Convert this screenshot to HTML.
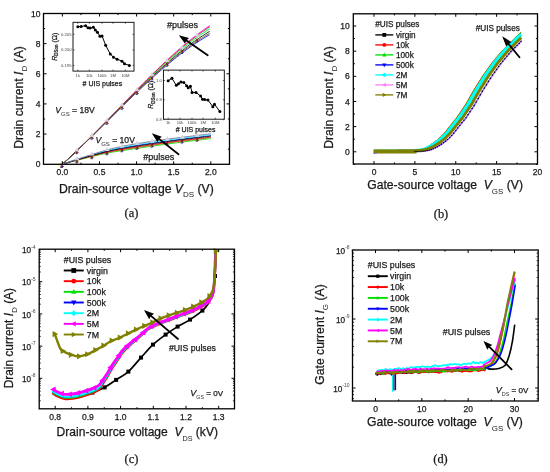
<!DOCTYPE html>
<html><head><meta charset="utf-8"><title>UIS degradation figure</title>
<style>
html,body{margin:0;padding:0;background:#fff;}
svg{display:block;}
text{font-family:"Liberation Sans",sans-serif;fill:#1a1a1a;stroke:#1a1a1a;stroke-width:0.25px;}
</style></head>
<body>
<svg width="550" height="472" viewBox="0 0 550 472">
<defs><filter id="soft" x="0" y="0" width="1" height="1"><feGaussianBlur stdDeviation="0.3"/></filter></defs>
<rect width="550" height="472" fill="#fff"/>
<g filter="url(#soft)">
<rect x="73" y="22.3" width="61" height="48.8" fill="#fff" stroke="#000" stroke-width="0.9"/>
<text x="71.5" y="35.7" font-size="4.2" text-anchor="end" style="fill:#444;stroke:none">0.205</text>
<text x="71.5" y="51.3" font-size="4.2" text-anchor="end" style="fill:#444;stroke:none">0.200</text>
<text x="71.5" y="66.8" font-size="4.2" text-anchor="end" style="fill:#444;stroke:none">0.195</text>
<text x="77.8" y="76.9" font-size="4.2" text-anchor="middle" style="fill:#444;stroke:none">1k</text>
<text x="89.3" y="76.9" font-size="4.2" text-anchor="middle" style="fill:#444;stroke:none">10k</text>
<text x="102" y="76.9" font-size="4.2" text-anchor="middle" style="fill:#444;stroke:none">100k</text>
<text x="113" y="76.9" font-size="4.2" text-anchor="middle" style="fill:#444;stroke:none">1M</text>
<text x="125.3" y="76.9" font-size="4.2" text-anchor="middle" style="fill:#444;stroke:none">10M</text>
<path d="M73,34.3h1.5M134,34.3h-1.5M73,49.9h1.5M134,49.9h-1.5M73,65.4h1.5M134,65.4h-1.5M77.8,71.1v-1.5M77.8,22.3v1.5M89.3,71.1v-1.5M89.3,22.3v1.5M102,71.1v-1.5M102,22.3v1.5M113,71.1v-1.5M113,22.3v1.5M125.3,71.1v-1.5M125.3,22.3v1.5" stroke="#000" stroke-width="0.6"/>
<path d="M77.82,26.78 L81.1,26.46 L85.68,25.64 L87.97,27.77 L90.1,28.09 L93.37,27.27 L95.34,30.06 L97.46,32.18 L99.92,36.28 L102.05,35.95 L105.65,45.28 L110.23,53.95 L113.5,57.23 L117.1,59.19 L122.01,61.15 L124.47,63.77 L129.38,65.41" stroke="#000" stroke-width="1.0" fill="none"/>
<circle cx="77.82" cy="26.78" r="1.5" fill="#000"/><circle cx="81.1" cy="26.46" r="1.5" fill="#000"/><circle cx="85.68" cy="25.64" r="1.5" fill="#000"/><circle cx="87.97" cy="27.77" r="1.5" fill="#000"/><circle cx="90.1" cy="28.09" r="1.5" fill="#000"/><circle cx="93.37" cy="27.27" r="1.5" fill="#000"/><circle cx="95.34" cy="30.06" r="1.5" fill="#000"/><circle cx="97.46" cy="32.18" r="1.5" fill="#000"/><circle cx="99.92" cy="36.28" r="1.5" fill="#000"/><circle cx="102.05" cy="35.95" r="1.5" fill="#000"/><circle cx="105.65" cy="45.28" r="1.5" fill="#000"/><circle cx="110.23" cy="53.95" r="1.5" fill="#000"/><circle cx="113.5" cy="57.23" r="1.5" fill="#000"/><circle cx="117.1" cy="59.19" r="1.5" fill="#000"/><circle cx="122.01" cy="61.15" r="1.5" fill="#000"/><circle cx="124.47" cy="63.77" r="1.5" fill="#000"/><circle cx="129.38" cy="65.41" r="1.5" fill="#000"/>
<text x="102.4" y="86" font-size="7" text-anchor="middle" ># UIS pulses</text>
<text transform="translate(56.5,46.7) rotate(-90)" font-size="7" text-anchor="middle"><tspan font-style="italic">R</tspan><tspan font-size="4.5" dy="1.8">DSon</tspan><tspan dy="-1.8"> (Ω)</tspan></text>
<rect x="163.4" y="70.1" width="60.9" height="49.1" fill="#fff" stroke="#000" stroke-width="0.9"/>
<text x="161.9" y="81.9" font-size="4.2" text-anchor="end" style="fill:#444;stroke:none">1.0</text>
<text x="161.9" y="101.2" font-size="4.2" text-anchor="end" style="fill:#444;stroke:none">0.9</text>
<text x="161.9" y="121.1" font-size="4.2" text-anchor="end" style="fill:#444;stroke:none">0.8</text>
<text x="168.2" y="123.9" font-size="4.2" text-anchor="middle" style="fill:#444;stroke:none">1k</text>
<text x="180.1" y="123.9" font-size="4.2" text-anchor="middle" style="fill:#444;stroke:none">10k</text>
<text x="192" y="123.9" font-size="4.2" text-anchor="middle" style="fill:#444;stroke:none">100k</text>
<text x="203" y="123.9" font-size="4.2" text-anchor="middle" style="fill:#444;stroke:none">1M</text>
<text x="215.3" y="123.9" font-size="4.2" text-anchor="middle" style="fill:#444;stroke:none">10M</text>
<path d="M163.4,80.5h1.5M224.3,80.5h-1.5M163.4,99.8h1.5M224.3,99.8h-1.5M163.4,119.7h1.5M224.3,119.7h-1.5M168.2,119.2v-1.5M168.2,70.1v1.5M180.1,119.2v-1.5M180.1,70.1v1.5M192,119.2v-1.5M192,70.1v1.5M203,119.2v-1.5M203,70.1v1.5M215.3,119.2v-1.5M215.3,70.1v1.5" stroke="#000" stroke-width="0.6"/>
<path d="M168.15,80.79 L171.91,78.33 L176.33,85.37 L178.46,83.73 L180.92,82.09 L183.86,82.59 L186.64,85.86 L188.28,87.82 L190.41,86.19 L192.05,92.41 L195.97,92.41 L200.56,96.01 L202.52,99.28 L204.65,99.61 L207.92,100.1 L212.83,106.64 L214.47,104.19 L219.87,111.55" stroke="#000" stroke-width="1.0" fill="none"/>
<circle cx="168.15" cy="80.79" r="1.5" fill="#000"/><circle cx="171.91" cy="78.33" r="1.5" fill="#000"/><circle cx="176.33" cy="85.37" r="1.5" fill="#000"/><circle cx="178.46" cy="83.73" r="1.5" fill="#000"/><circle cx="180.92" cy="82.09" r="1.5" fill="#000"/><circle cx="183.86" cy="82.59" r="1.5" fill="#000"/><circle cx="186.64" cy="85.86" r="1.5" fill="#000"/><circle cx="188.28" cy="87.82" r="1.5" fill="#000"/><circle cx="190.41" cy="86.19" r="1.5" fill="#000"/><circle cx="192.05" cy="92.41" r="1.5" fill="#000"/><circle cx="195.97" cy="92.41" r="1.5" fill="#000"/><circle cx="200.56" cy="96.01" r="1.5" fill="#000"/><circle cx="202.52" cy="99.28" r="1.5" fill="#000"/><circle cx="204.65" cy="99.61" r="1.5" fill="#000"/><circle cx="207.92" cy="100.1" r="1.5" fill="#000"/><circle cx="212.83" cy="106.64" r="1.5" fill="#000"/><circle cx="214.47" cy="104.19" r="1.5" fill="#000"/><circle cx="219.87" cy="111.55" r="1.5" fill="#000"/>
<text x="195.6" y="131.9" font-size="7" text-anchor="middle" ># UIS pulses</text>
<text transform="translate(153,94.65) rotate(-90)" font-size="7" text-anchor="middle"><tspan font-style="italic">R</tspan><tspan font-size="4.5" dy="1.8">DSon</tspan><tspan dy="-1.8"> (Ω)</tspan></text>
<path d="M62.4,164.2 C63.01,163.64 64.85,161.98 66.08,160.86 C67.31,159.73 68.54,158.59 69.76,157.45 C70.99,156.31 72.22,155.15 73.45,153.99 C74.67,152.82 75.9,151.65 77.13,150.47 C78.36,149.29 79.58,148.11 80.81,146.91 C82.04,145.72 83.27,144.51 84.49,143.3 C85.72,142.09 86.95,140.88 88.18,139.66 C89.4,138.44 90.63,137.21 91.86,135.98 C93.08,134.74 94.31,133.5 95.54,132.26 C96.77,131.02 97.99,129.77 99.22,128.52 C100.45,127.27 101.68,126.02 102.9,124.76 C104.13,123.5 105.36,122.24 106.59,120.98 C107.81,119.72 109.04,118.45 110.27,117.18 C111.5,115.92 112.72,114.65 113.95,113.38 C115.18,112.11 116.41,110.84 117.63,109.57 C118.86,108.3 120.09,107.03 121.31,105.76 C122.54,104.49 123.77,103.22 125,101.95 C126.22,100.69 127.45,99.42 128.68,98.15 C129.91,96.89 131.13,95.63 132.36,94.37 C133.59,93.11 134.82,91.85 136.04,90.6 C137.27,89.34 138.5,88.09 139.73,86.85 C140.95,85.6 142.18,84.36 143.41,83.12 C144.64,81.89 145.86,80.66 147.09,79.43 C148.32,78.21 149.54,76.99 150.77,75.77 C152,74.56 153.23,73.35 154.45,72.15 C155.68,70.95 156.91,69.76 158.14,68.58 C159.36,67.39 160.59,66.21 161.82,65.05 C163.05,63.88 164.27,62.72 165.5,61.57 C166.73,60.42 167.96,59.28 169.18,58.15 C170.41,57.02 171.64,55.9 172.87,54.79 C174.09,53.68 175.32,52.59 176.55,51.5 C177.77,50.42 179,49.34 180.23,48.28 C181.46,47.22 182.68,46.17 183.91,45.13 C185.14,44.1 186.37,43.08 187.59,42.07 C188.82,41.06 190.05,40.06 191.28,39.09 C192.5,38.11 193.73,37.14 194.96,36.19 C196.19,35.24 197.41,34.31 198.64,33.39 C199.87,32.48 201.1,31.58 202.32,30.69 C203.55,29.81 204.78,28.94 206,28.09 C207.23,27.25 209.07,26.02 209.69,25.6" stroke="#ff00ff" stroke-width="0.95" fill="none" stroke-opacity="0.85"/>
<path d="M62.4,164.2 C63.01,163.64 64.85,161.98 66.08,160.86 C67.31,159.73 68.54,158.6 69.76,157.45 C70.99,156.31 72.22,155.16 73.45,154 C74.67,152.84 75.9,151.67 77.13,150.49 C78.36,149.31 79.58,148.13 80.81,146.94 C82.04,145.75 83.27,144.55 84.49,143.34 C85.72,142.14 86.95,140.93 88.18,139.71 C89.4,138.5 90.63,137.27 91.86,136.05 C93.08,134.82 94.31,133.59 95.54,132.35 C96.77,131.12 97.99,129.88 99.22,128.64 C100.45,127.39 101.68,126.15 102.9,124.9 C104.13,123.65 105.36,122.4 106.59,121.15 C107.81,119.89 109.04,118.64 110.27,117.38 C111.5,116.12 112.72,114.87 113.95,113.61 C115.18,112.35 116.41,111.09 117.63,109.83 C118.86,108.57 120.09,107.32 121.31,106.06 C122.54,104.8 123.77,103.54 125,102.29 C126.22,101.04 127.45,99.78 128.68,98.53 C129.91,97.28 131.13,96.03 132.36,94.79 C133.59,93.55 134.82,92.3 136.04,91.07 C137.27,89.83 138.5,88.59 139.73,87.36 C140.95,86.14 142.18,84.91 143.41,83.69 C144.64,82.47 145.86,81.26 147.09,80.05 C148.32,78.84 149.54,77.64 150.77,76.44 C152,75.25 153.23,74.06 154.45,72.88 C155.68,71.7 156.91,70.53 158.14,69.36 C159.36,68.2 160.59,67.04 161.82,65.89 C163.05,64.75 164.27,63.61 165.5,62.48 C166.73,61.35 167.96,60.23 169.18,59.12 C170.41,58.01 171.64,56.91 172.87,55.83 C174.09,54.74 175.32,53.67 176.55,52.6 C177.77,51.54 179,50.49 180.23,49.45 C181.46,48.41 182.68,47.38 183.91,46.37 C185.14,45.36 186.37,44.36 187.59,43.37 C188.82,42.39 190.05,41.42 191.28,40.46 C192.5,39.51 193.73,38.57 194.96,37.64 C196.19,36.72 197.41,35.81 198.64,34.91 C199.87,34.02 201.1,33.14 202.32,32.28 C203.55,31.43 204.78,30.58 206,29.76 C207.23,28.93 209.07,27.74 209.69,27.34" stroke="#00ffff" stroke-width="0.95" fill="none" stroke-opacity="0.85"/>
<path d="M62.4,164.2 C63.01,163.64 64.85,161.98 66.08,160.86 C67.31,159.73 68.54,158.6 69.76,157.46 C70.99,156.32 72.22,155.16 73.45,154.01 C74.67,152.85 75.9,151.68 77.13,150.51 C78.36,149.33 79.58,148.15 80.81,146.96 C82.04,145.78 83.27,144.58 84.49,143.38 C85.72,142.18 86.95,140.97 88.18,139.76 C89.4,138.55 90.63,137.34 91.86,136.11 C93.08,134.89 94.31,133.67 95.54,132.44 C96.77,131.21 97.99,129.98 99.22,128.74 C100.45,127.51 101.68,126.27 102.9,125.03 C104.13,123.79 105.36,122.54 106.59,121.3 C107.81,120.05 109.04,118.81 110.27,117.56 C111.5,116.31 112.72,115.07 113.95,113.82 C115.18,112.57 116.41,111.32 117.63,110.07 C118.86,108.83 120.09,107.58 121.31,106.33 C122.54,105.09 123.77,103.84 125,102.6 C126.22,101.36 127.45,100.12 128.68,98.88 C129.91,97.65 131.13,96.41 132.36,95.18 C133.59,93.95 134.82,92.72 136.04,91.5 C137.27,90.27 138.5,89.05 139.73,87.84 C140.95,86.63 142.18,85.42 143.41,84.21 C144.64,83.01 145.86,81.81 147.09,80.62 C148.32,79.43 149.54,78.24 150.77,77.07 C152,75.89 153.23,74.72 154.45,73.55 C155.68,72.39 156.91,71.23 158.14,70.09 C159.36,68.94 160.59,67.8 161.82,66.67 C163.05,65.55 164.27,64.43 165.5,63.32 C166.73,62.21 167.96,61.11 169.18,60.02 C170.41,58.93 171.64,57.85 172.87,56.78 C174.09,55.72 175.32,54.66 176.55,53.62 C177.77,52.58 179,51.54 180.23,50.53 C181.46,49.51 182.68,48.5 183.91,47.51 C185.14,46.52 186.37,45.54 187.59,44.58 C188.82,43.62 190.05,42.67 191.28,41.73 C192.5,40.8 193.73,39.88 194.96,38.98 C196.19,38.07 197.41,37.19 198.64,36.32 C199.87,35.44 201.1,34.59 202.32,33.75 C203.55,32.92 204.78,32.1 206,31.29 C207.23,30.49 209.07,29.34 209.69,28.94" stroke="#00e000" stroke-width="0.95" fill="none" stroke-opacity="0.85"/>
<path d="M62.4,164.2 C63.01,163.64 64.85,161.98 66.08,160.86 C67.31,159.74 68.54,158.61 69.76,157.47 C70.99,156.34 72.22,155.19 73.45,154.04 C74.67,152.89 75.9,151.73 77.13,150.57 C78.36,149.4 79.58,148.23 80.81,147.06 C82.04,145.88 83.27,144.7 84.49,143.51 C85.72,142.33 86.95,141.14 88.18,139.95 C89.4,138.75 90.63,137.55 91.86,136.35 C93.08,135.15 94.31,133.95 95.54,132.74 C96.77,131.54 97.99,130.33 99.22,129.12 C100.45,127.91 101.68,126.7 102.9,125.49 C104.13,124.27 105.36,123.06 106.59,121.85 C107.81,120.63 109.04,119.42 110.27,118.21 C111.5,116.99 112.72,115.78 113.95,114.57 C115.18,113.36 116.41,112.15 117.63,110.94 C118.86,109.73 120.09,108.52 121.31,107.32 C122.54,106.12 123.77,104.91 125,103.72 C126.22,102.52 127.45,101.32 128.68,100.13 C129.91,98.94 131.13,97.76 132.36,96.58 C133.59,95.39 134.82,94.22 136.04,93.04 C137.27,91.87 138.5,90.71 139.73,89.55 C140.95,88.39 142.18,87.23 143.41,86.09 C144.64,84.94 145.86,83.8 147.09,82.67 C148.32,81.53 149.54,80.41 150.77,79.29 C152,78.17 153.23,77.06 154.45,75.96 C155.68,74.86 156.91,73.77 158.14,72.69 C159.36,71.61 160.59,70.54 161.82,69.47 C163.05,68.41 164.27,67.36 165.5,66.32 C166.73,65.28 167.96,64.25 169.18,63.23 C170.41,62.21 171.64,61.2 172.87,60.21 C174.09,59.22 175.32,58.23 176.55,57.26 C177.77,56.29 179,55.34 180.23,54.39 C181.46,53.45 182.68,52.52 183.91,51.6 C185.14,50.69 186.37,49.79 187.59,48.9 C188.82,48.01 190.05,47.14 191.28,46.29 C192.5,45.43 193.73,44.59 194.96,43.77 C196.19,42.94 197.41,42.13 198.64,41.34 C199.87,40.55 201.1,39.77 202.32,39.02 C203.55,38.26 204.78,37.52 206,36.8 C207.23,36.08 209.07,35.04 209.69,34.69" stroke="#0000ff" stroke-width="0.95" fill="none" stroke-opacity="0.85"/>
<path d="M62.4,164.2 C63.01,163.64 64.85,161.98 66.08,160.86 C67.31,159.73 68.54,158.6 69.76,157.45 C70.99,156.31 72.22,155.16 73.45,153.99 C74.67,152.83 75.9,151.66 77.13,150.48 C78.36,149.31 79.58,148.12 80.81,146.93 C82.04,145.73 83.27,144.53 84.49,143.33 C85.72,142.12 86.95,140.91 88.18,139.69 C89.4,138.47 90.63,137.25 91.86,136.02 C93.08,134.79 94.31,133.56 95.54,132.32 C96.77,131.08 97.99,129.84 99.22,128.59 C100.45,127.35 101.68,126.1 102.9,124.85 C104.13,123.59 105.36,122.34 106.59,121.08 C107.81,119.82 109.04,118.57 110.27,117.3 C111.5,116.04 112.72,114.78 113.95,113.52 C115.18,112.26 116.41,110.99 117.63,109.73 C118.86,108.47 120.09,107.21 121.31,105.94 C122.54,104.68 123.77,103.42 125,102.16 C126.22,100.9 127.45,99.64 128.68,98.39 C129.91,97.13 131.13,95.88 132.36,94.63 C133.59,93.38 134.82,92.13 136.04,90.89 C137.27,89.64 138.5,88.4 139.73,87.17 C140.95,85.93 142.18,84.7 143.41,83.47 C144.64,82.25 145.86,81.03 147.09,79.81 C148.32,78.6 149.54,77.39 150.77,76.19 C152,74.98 153.23,73.79 154.45,72.6 C155.68,71.41 156.91,70.23 158.14,69.06 C159.36,67.89 160.59,66.72 161.82,65.57 C163.05,64.41 164.27,63.27 165.5,62.13 C166.73,60.99 167.96,59.86 169.18,58.75 C170.41,57.63 171.64,56.52 172.87,55.43 C174.09,54.34 175.32,53.25 176.55,52.18 C177.77,51.11 179,50.05 180.23,49 C181.46,47.95 182.68,46.92 183.91,45.89 C185.14,44.87 186.37,43.86 187.59,42.87 C188.82,41.88 190.05,40.9 191.28,39.93 C192.5,38.97 193.73,38.02 194.96,37.08 C196.19,36.15 197.41,35.23 198.64,34.33 C199.87,33.43 201.1,32.54 202.32,31.67 C203.55,30.8 204.78,29.95 206,29.12 C207.23,28.29 209.07,27.08 209.69,26.67" stroke="#ff0000" stroke-width="0.95" fill="none" stroke-opacity="0.85"/>
<path d="M62.4,164.2 C63.01,163.64 64.85,161.98 66.08,160.86 C67.31,159.74 68.54,158.6 69.76,157.46 C70.99,156.32 72.22,155.18 73.45,154.02 C74.67,152.86 75.9,151.7 77.13,150.53 C78.36,149.36 79.58,148.18 80.81,147 C82.04,145.82 83.27,144.63 84.49,143.44 C85.72,142.24 86.95,141.04 88.18,139.84 C89.4,138.64 90.63,137.43 91.86,136.21 C93.08,135 94.31,133.79 95.54,132.57 C96.77,131.35 97.99,130.13 99.22,128.9 C100.45,127.68 101.68,126.45 102.9,125.22 C104.13,123.99 105.36,122.76 106.59,121.53 C107.81,120.3 109.04,119.06 110.27,117.83 C111.5,116.6 112.72,115.36 113.95,114.13 C115.18,112.9 116.41,111.67 117.63,110.44 C118.86,109.2 120.09,107.97 121.31,106.75 C122.54,105.52 123.77,104.29 125,103.07 C126.22,101.85 127.45,100.62 128.68,99.41 C129.91,98.19 131.13,96.97 132.36,95.76 C133.59,94.55 134.82,93.35 136.04,92.15 C137.27,90.94 138.5,89.75 139.73,88.55 C140.95,87.36 142.18,86.18 143.41,85 C144.64,83.82 145.86,82.64 147.09,81.48 C148.32,80.31 149.54,79.15 150.77,78 C152,76.84 153.23,75.7 154.45,74.56 C155.68,73.43 156.91,72.3 158.14,71.18 C159.36,70.06 160.59,68.95 161.82,67.85 C163.05,66.75 164.27,65.65 165.5,64.57 C166.73,63.49 167.96,62.42 169.18,61.36 C170.41,60.3 171.64,59.25 172.87,58.22 C174.09,57.18 175.32,56.16 176.55,55.14 C177.77,54.13 179,53.13 180.23,52.15 C181.46,51.16 182.68,50.18 183.91,49.23 C185.14,48.27 186.37,47.32 187.59,46.39 C188.82,45.46 190.05,44.54 191.28,43.64 C192.5,42.74 193.73,41.85 194.96,40.98 C196.19,40.11 197.41,39.26 198.64,38.42 C199.87,37.58 201.1,36.76 202.32,35.96 C203.55,35.15 204.78,34.37 206,33.6 C207.23,32.83 209.07,31.72 209.69,31.35" stroke="#000000" stroke-width="0.95" fill="none" stroke-opacity="0.85"/>
<path d="M62.4,164.2 C63.01,163.64 64.85,161.98 66.08,160.86 C67.31,159.74 68.54,158.61 69.76,157.47 C70.99,156.33 72.22,155.18 73.45,154.03 C74.67,152.88 75.9,151.72 77.13,150.55 C78.36,149.38 79.58,148.21 80.81,147.03 C82.04,145.85 83.27,144.67 84.49,143.48 C85.72,142.29 86.95,141.1 88.18,139.9 C89.4,138.7 90.63,137.5 91.86,136.29 C93.08,135.09 94.31,133.88 95.54,132.67 C96.77,131.45 97.99,130.24 99.22,129.02 C100.45,127.81 101.68,126.59 102.9,125.37 C104.13,124.15 105.36,122.93 106.59,121.71 C107.81,120.49 109.04,119.26 110.27,118.04 C111.5,116.82 112.72,115.6 113.95,114.38 C115.18,113.16 116.41,111.94 117.63,110.72 C118.86,109.5 120.09,108.28 121.31,107.07 C122.54,105.85 123.77,104.64 125,103.43 C126.22,102.22 127.45,101.02 128.68,99.81 C129.91,98.61 131.13,97.41 132.36,96.22 C133.59,95.02 134.82,93.83 136.04,92.65 C137.27,91.46 138.5,90.28 139.73,89.11 C140.95,87.94 142.18,86.77 143.41,85.61 C144.64,84.45 145.86,83.29 147.09,82.14 C148.32,80.99 149.54,79.85 150.77,78.72 C152,77.59 153.23,76.46 154.45,75.35 C155.68,74.23 156.91,73.12 158.14,72.02 C159.36,70.93 160.59,69.84 161.82,68.76 C163.05,67.68 164.27,66.61 165.5,65.55 C166.73,64.49 167.96,63.44 169.18,62.41 C170.41,61.37 171.64,60.35 172.87,59.33 C174.09,58.32 175.32,57.32 176.55,56.33 C177.77,55.34 179,54.37 180.23,53.4 C181.46,52.44 182.68,51.49 183.91,50.56 C185.14,49.62 186.37,48.7 187.59,47.8 C188.82,46.89 190.05,46 191.28,45.12 C192.5,44.25 193.73,43.38 194.96,42.54 C196.19,41.7 197.41,40.87 198.64,40.06 C199.87,39.24 201.1,38.45 202.32,37.67 C203.55,36.89 204.78,36.13 206,35.39 C207.23,34.65 209.07,33.58 209.69,33.22" stroke="#74603a" stroke-width="0.95" fill="none" stroke-opacity="1"/>
<path d="M62.4,164.2 C64.87,163.54 72.29,161.49 77.24,160.21 C82.19,158.94 87.13,157.71 92.08,156.53 C97.03,155.35 101.97,154.13 106.92,153.15 C111.87,152.17 116.81,151.44 121.76,150.67 C126.71,149.9 131.65,149.26 136.6,148.53 C141.55,147.79 146.49,147 151.44,146.27 C156.39,145.54 161.33,144.84 166.28,144.16 C171.23,143.48 176.17,142.83 181.12,142.2 C186.07,141.57 191.01,140.99 195.96,140.39 C200.91,139.79 208.33,138.88 210.8,138.58" stroke="#00e000" stroke-width="0.95" fill="none" stroke-opacity="0.85"/>
<path d="M62.4,164.2 C64.87,163.5 72.29,161.36 77.24,160.01 C82.19,158.67 87.13,157.37 92.08,156.13 C97.03,154.88 101.97,153.59 106.92,152.55 C111.87,151.5 116.81,150.69 121.76,149.87 C126.71,149.05 131.65,148.37 136.6,147.62 C141.55,146.87 146.49,146.09 151.44,145.36 C156.39,144.63 161.33,143.93 166.28,143.25 C171.23,142.57 176.17,141.92 181.12,141.29 C186.07,140.67 191.01,140.09 195.96,139.49 C200.91,138.88 208.33,137.98 210.8,137.68" stroke="#808000" stroke-width="0.95" fill="none" stroke-opacity="0.85"/>
<path d="M62.4,164.2 C64.87,163.48 72.29,161.27 77.24,159.88 C82.19,158.49 87.13,157.15 92.08,155.86 C97.03,154.57 101.97,153.23 106.92,152.14 C111.87,151.06 116.81,150.18 121.76,149.33 C126.71,148.48 131.65,147.78 136.6,147.02 C141.55,146.26 146.49,145.49 151.44,144.76 C156.39,144.03 161.33,143.33 166.28,142.65 C171.23,141.97 176.17,141.32 181.12,140.69 C186.07,140.06 191.01,139.49 195.96,138.88 C200.91,138.28 208.33,137.38 210.8,137.07" stroke="#ff0000" stroke-width="0.95" fill="none" stroke-opacity="0.85"/>
<path d="M62.4,164.2 C64.87,163.42 72.29,161.05 77.24,159.55 C82.19,158.04 87.13,156.59 92.08,155.19 C97.03,153.79 101.97,152.34 106.92,151.14 C111.87,149.94 116.81,148.93 121.76,147.99 C126.71,147.05 131.65,146.3 136.6,145.51 C141.55,144.72 146.49,143.98 151.44,143.25 C156.39,142.52 161.33,141.82 166.28,141.14 C171.23,140.46 176.17,139.81 181.12,139.18 C186.07,138.56 191.01,137.98 195.96,137.38 C200.91,136.77 208.33,135.87 210.8,135.57" stroke="#0000ff" stroke-width="0.95" fill="none" stroke-opacity="0.85"/>
<path d="M62.4,164.2 C64.87,163.39 72.29,160.91 77.24,159.34 C82.19,157.78 87.13,156.26 92.08,154.79 C97.03,153.32 101.97,151.8 106.92,150.54 C111.87,149.27 116.81,148.18 121.76,147.19 C126.71,146.2 131.65,145.42 136.6,144.61 C141.55,143.8 146.49,143.08 151.44,142.35 C156.39,141.62 161.33,140.92 166.28,140.24 C171.23,139.56 176.17,138.91 181.12,138.28 C186.07,137.65 191.01,137.07 195.96,136.47 C200.91,135.87 208.33,134.96 210.8,134.66" stroke="#00ffff" stroke-width="0.95" fill="none" stroke-opacity="0.85"/>
<path d="M62.4,164.2 C64.87,163.45 72.29,161.14 77.24,159.68 C82.19,158.22 87.13,156.82 92.08,155.46 C97.03,154.1 101.97,152.7 106.92,151.54 C111.87,150.39 116.81,149.43 121.76,148.53 C126.71,147.62 131.65,146.89 136.6,146.12 C141.55,145.34 146.49,144.58 151.44,143.86 C156.39,143.13 161.33,142.42 166.28,141.75 C171.23,141.07 176.17,140.41 181.12,139.79 C186.07,139.16 191.01,138.58 195.96,137.98 C200.91,137.38 208.33,136.47 210.8,136.17" stroke="#000000" stroke-width="0.95" fill="none" stroke-opacity="0.85"/>
<path d="M62.4,164.2 C64.87,163.36 72.29,160.78 77.24,159.14 C82.19,157.51 87.13,155.92 92.08,154.39 C97.03,152.85 101.97,151.27 106.92,149.93 C111.87,148.6 116.81,147.42 121.76,146.38 C126.71,145.35 131.65,144.53 136.6,143.7 C141.55,142.88 146.49,142.17 151.44,141.44 C156.39,140.72 161.33,140.01 166.28,139.33 C171.23,138.66 176.17,138 181.12,137.38 C186.07,136.75 191.01,136.17 195.96,135.57 C200.91,134.96 208.33,134.06 210.8,133.76" stroke="#8a7a9c" stroke-width="0.95" fill="none" stroke-opacity="1"/>
<rect x="60.5" y="165.7" width="2.2" height="2.2" fill="#2020a0"/><circle cx="60.8" cy="166.6" r="0.8" fill="#e0e000"/><path d="M60.5,163.9l3,3m0,-3l-3,3" stroke="#8a1020" stroke-width="0.95"/><path d="M62,160.96L64.42,165.36L59.58,165.36Z" fill="#d6d2dc"/><rect x="60.5" y="165.7" width="2.2" height="2.2" fill="#2020a0"/><circle cx="60.8" cy="166.6" r="0.8" fill="#e0e000"/><path d="M60.5,163.9l3,3m0,-3l-3,3" stroke="#8a1020" stroke-width="0.95"/><path d="M62,160.96L64.42,165.36L59.58,165.36Z" fill="#d6d2dc"/><rect x="75.52" y="151.91" width="2.2" height="2.2" fill="#2020a0"/><circle cx="75.82" cy="152.81" r="0.8" fill="#e0e000"/><path d="M75.52,150.11l3,3m0,-3l-3,3" stroke="#8a1020" stroke-width="0.95"/><path d="M77.02,147.13L79.44,151.53L74.6,151.53Z" fill="#d6d2dc"/><rect x="75.52" y="161.18" width="2.2" height="2.2" fill="#2020a0"/><circle cx="75.82" cy="162.08" r="0.8" fill="#e0e000"/><path d="M75.52,159.38l3,3m0,-3l-3,3" stroke="#8a1020" stroke-width="0.95"/><path d="M77.02,155.9L79.44,160.3L74.6,160.3Z" fill="#d6d2dc"/><rect x="90.54" y="137.42" width="2.2" height="2.2" fill="#2020a0"/><circle cx="90.84" cy="138.32" r="0.8" fill="#e0e000"/><path d="M90.54,135.62l3,3m0,-3l-3,3" stroke="#8a1020" stroke-width="0.95"/><path d="M92.04,132.51L94.46,136.91L89.62,136.91Z" fill="#d6d2dc"/><rect x="90.54" y="156.96" width="2.2" height="2.2" fill="#2020a0"/><circle cx="90.84" cy="157.86" r="0.8" fill="#e0e000"/><path d="M90.54,155.16l3,3m0,-3l-3,3" stroke="#8a1020" stroke-width="0.95"/><path d="M92.04,151.15L94.46,155.55L89.62,155.55Z" fill="#d6d2dc"/><rect x="105.56" y="122.52" width="2.2" height="2.2" fill="#2020a0"/><circle cx="105.86" cy="123.42" r="0.8" fill="#e0e000"/><path d="M105.56,120.72l3,3m0,-3l-3,3" stroke="#8a1020" stroke-width="0.95"/><path d="M107.06,117.4L109.48,121.8L104.64,121.8Z" fill="#d6d2dc"/><rect x="105.56" y="153.04" width="2.2" height="2.2" fill="#2020a0"/><circle cx="105.86" cy="153.94" r="0.8" fill="#e0e000"/><path d="M105.56,151.24l3,3m0,-3l-3,3" stroke="#8a1020" stroke-width="0.95"/><path d="M107.06,146.69L109.48,151.09L104.64,151.09Z" fill="#d6d2dc"/><rect x="120.58" y="107.5" width="2.2" height="2.2" fill="#2020a0"/><circle cx="120.88" cy="108.4" r="0.8" fill="#e0e000"/><path d="M120.58,105.7l3,3m0,-3l-3,3" stroke="#8a1020" stroke-width="0.95"/><path d="M122.08,102.06L124.5,106.46L119.66,106.46Z" fill="#d6d2dc"/><rect x="120.58" y="150.03" width="2.2" height="2.2" fill="#2020a0"/><circle cx="120.88" cy="150.93" r="0.8" fill="#e0e000"/><path d="M120.58,148.23l3,3m0,-3l-3,3" stroke="#8a1020" stroke-width="0.95"/><path d="M122.08,143.14L124.5,147.54L119.66,147.54Z" fill="#d6d2dc"/><rect x="135.6" y="92.63" width="2.2" height="2.2" fill="#2020a0"/><circle cx="135.9" cy="93.53" r="0.8" fill="#e0e000"/><path d="M135.6,90.83l3,3m0,-3l-3,3" stroke="#8a1020" stroke-width="0.95"/><path d="M137.1,86.79L139.52,91.19L134.68,91.19Z" fill="#d6d2dc"/><rect x="135.6" y="147.62" width="2.2" height="2.2" fill="#2020a0"/><circle cx="135.9" cy="148.52" r="0.8" fill="#e0e000"/><path d="M135.6,145.82l3,3m0,-3l-3,3" stroke="#8a1020" stroke-width="0.95"/><path d="M137.1,140.46L139.52,144.86L134.68,144.86Z" fill="#d6d2dc"/><rect x="150.62" y="78.19" width="2.2" height="2.2" fill="#2020a0"/><circle cx="150.92" cy="79.09" r="0.8" fill="#e0e000"/><path d="M150.62,76.39l3,3m0,-3l-3,3" stroke="#8a1020" stroke-width="0.95"/><path d="M152.12,71.87L154.54,76.27L149.7,76.27Z" fill="#d6d2dc"/><rect x="150.62" y="145.36" width="2.2" height="2.2" fill="#2020a0"/><circle cx="150.92" cy="146.26" r="0.8" fill="#e0e000"/><path d="M150.62,143.56l3,3m0,-3l-3,3" stroke="#8a1020" stroke-width="0.95"/><path d="M152.12,138.2L154.54,142.6L149.7,142.6Z" fill="#d6d2dc"/><rect x="165.64" y="64.47" width="2.2" height="2.2" fill="#2020a0"/><circle cx="165.94" cy="65.37" r="0.8" fill="#e0e000"/><path d="M165.64,62.67l3,3m0,-3l-3,3" stroke="#8a1020" stroke-width="0.95"/><path d="M167.14,57.6L169.56,62L164.72,62Z" fill="#d6d2dc"/><rect x="165.64" y="143.25" width="2.2" height="2.2" fill="#2020a0"/><circle cx="165.94" cy="144.15" r="0.8" fill="#e0e000"/><path d="M165.64,141.45l3,3m0,-3l-3,3" stroke="#8a1020" stroke-width="0.95"/><path d="M167.14,136.09L169.56,140.49L164.72,140.49Z" fill="#d6d2dc"/><rect x="180.66" y="51.75" width="2.2" height="2.2" fill="#2020a0"/><circle cx="180.96" cy="52.65" r="0.8" fill="#e0e000"/><path d="M180.66,49.95l3,3m0,-3l-3,3" stroke="#8a1020" stroke-width="0.95"/><path d="M182.16,44.27L184.58,48.67L179.74,48.67Z" fill="#d6d2dc"/><rect x="180.66" y="141.29" width="2.2" height="2.2" fill="#2020a0"/><circle cx="180.96" cy="142.19" r="0.8" fill="#e0e000"/><path d="M180.66,139.49l3,3m0,-3l-3,3" stroke="#8a1020" stroke-width="0.95"/><path d="M182.16,134.14L184.58,138.54L179.74,138.54Z" fill="#d6d2dc"/><rect x="195.68" y="40.31" width="2.2" height="2.2" fill="#2020a0"/><circle cx="195.98" cy="41.21" r="0.8" fill="#e0e000"/><path d="M195.68,38.51l3,3m0,-3l-3,3" stroke="#8a1020" stroke-width="0.95"/><path d="M197.18,32.18L199.6,36.58L194.76,36.58Z" fill="#d6d2dc"/><rect x="195.68" y="139.48" width="2.2" height="2.2" fill="#2020a0"/><circle cx="195.98" cy="140.38" r="0.8" fill="#e0e000"/><path d="M195.68,137.68l3,3m0,-3l-3,3" stroke="#8a1020" stroke-width="0.95"/><path d="M197.18,132.33L199.6,136.73L194.76,136.73Z" fill="#d6d2dc"/>
<rect x="43.5" y="13.5" width="186" height="150.8" fill="none" stroke="#000" stroke-width="1.3"/>
<path d="M62.4,164.3v-3M62.4,13.5v3M99.5,164.3v-3M99.5,13.5v3M136.6,164.3v-3M136.6,13.5v3M173.7,164.3v-3M173.7,13.5v3M210.8,164.3v-3M210.8,13.5v3" stroke="#000" stroke-width="1.0" fill="none"/>
<path d="M80.95,164.3v-1.6M80.95,13.5v1.6M118.05,164.3v-1.6M118.05,13.5v1.6M155.15,164.3v-1.6M155.15,13.5v1.6M192.25,164.3v-1.6M192.25,13.5v1.6" stroke="#000" stroke-width="1.0" fill="none"/>
<path d="M43.5,134.06h3M229.5,134.06h-3M43.5,103.92h3M229.5,103.92h-3M43.5,73.78h3M229.5,73.78h-3M43.5,43.64h3M229.5,43.64h-3" stroke="#000" stroke-width="1.0" fill="none"/>
<path d="M43.5,149.13h1.6M229.5,149.13h-1.6M43.5,118.99h1.6M229.5,118.99h-1.6M43.5,88.85h1.6M229.5,88.85h-1.6M43.5,58.71h1.6M229.5,58.71h-1.6M43.5,28.57h1.6M229.5,28.57h-1.6" stroke="#000" stroke-width="1.0" fill="none"/>
<text x="62.4" y="175" font-size="8.5" text-anchor="middle" >0.0</text>
<text x="99.5" y="175" font-size="8.5" text-anchor="middle" >0.5</text>
<text x="136.6" y="175" font-size="8.5" text-anchor="middle" >1.0</text>
<text x="173.7" y="175" font-size="8.5" text-anchor="middle" >1.5</text>
<text x="210.8" y="175" font-size="8.5" text-anchor="middle" >2.0</text>
<text x="40.5" y="167.3" font-size="8.5" text-anchor="end" >0</text>
<text x="40.5" y="137.16" font-size="8.5" text-anchor="end" >2</text>
<text x="40.5" y="107.02" font-size="8.5" text-anchor="end" >4</text>
<text x="40.5" y="76.88" font-size="8.5" text-anchor="end" >6</text>
<text x="40.5" y="46.74" font-size="8.5" text-anchor="end" >8</text>
<text x="40.5" y="16.6" font-size="8.5" text-anchor="end" >10</text>
<text x="59" y="192.8" font-size="12.2">Drain-source voltage <tspan font-style="italic">V</tspan><tspan font-size="8" dy="4.3" style="stroke:none">DS</tspan><tspan dy="-4.3"> (V)</tspan></text>
<text transform="translate(22.6,148.8) rotate(-90)" font-size="12.2">Drain current <tspan font-style="italic">I</tspan><tspan font-size="8" dy="4.3" style="stroke:none">D</tspan><tspan dy="-4.3"> (A)</tspan></text>
<text x="55.3" y="112.7" font-size="8.6"><tspan font-style="italic" font-size="8.6">V</tspan><tspan font-size="6" dy="3.44" style="stroke:none;fill:#333">GS</tspan><tspan dy="-3.44"> = 18V</tspan></text>
<text x="95.4" y="142.6" font-size="8.6"><tspan font-style="italic" font-size="8.6">V</tspan><tspan font-size="6" dy="3.44" style="stroke:none;fill:#333">GS</tspan><tspan dy="-3.44"> = 10V</tspan></text>
<text x="167" y="27.5" font-size="9" text-anchor="start" >#pulses</text>
<text x="143.3" y="160" font-size="9" text-anchor="start" >#pulses</text>
<path d="M207.7,55.2L185.38,39.75" stroke="#000" stroke-width="1.8" stroke-linecap="round"/>
<path d="M178.8,35.2L189.01,38.01L186.37,40.44L185.03,43.77Z" fill="#000"/>
<path d="M178.5,154.2L158.09,138.15" stroke="#000" stroke-width="1.8" stroke-linecap="round"/>
<path d="M151.8,133.2L161.82,136.63L159.03,138.89L157.5,142.13Z" fill="#000"/>
<text x="131.5" y="217.1" font-size="12.4" text-anchor="middle" style="font-family:'Liberation Serif',serif">(a)</text>
<path d="M374,151.18 C374.34,151.18 375.36,151.18 376.04,151.18 C376.72,151.18 377.41,151.18 378.09,151.18 C378.77,151.18 379.45,151.18 380.13,151.18 C380.81,151.18 381.49,151.18 382.18,151.18 C382.86,151.18 383.54,151.18 384.22,151.18 C384.9,151.18 385.58,151.18 386.26,151.18 C386.94,151.18 387.62,151.18 388.31,151.18 C388.99,151.18 389.67,151.18 390.35,151.18 C391.03,151.17 391.71,151.16 392.39,151.15 C393.07,151.14 393.76,151.13 394.44,151.12 C395.12,151.11 395.8,151.11 396.48,151.1 C397.16,151.09 397.84,151.08 398.52,151.07 C399.21,151.06 399.89,151.05 400.57,151.04 C401.25,151.04 401.93,151.03 402.61,151.02 C403.29,151.01 403.98,151 404.66,150.99 C405.34,150.98 406.02,150.98 406.7,150.97 C407.38,150.96 408.06,150.96 408.74,150.93 C409.42,150.91 410.11,150.87 410.79,150.83 C411.47,150.79 412.15,150.74 412.83,150.69 C413.51,150.65 414.19,150.6 414.88,150.56 C415.56,150.51 416.24,150.47 416.92,150.42 C417.6,150.37 418.28,150.37 418.96,150.25 C419.64,150.13 420.33,149.88 421.01,149.7 C421.69,149.52 422.37,149.41 423.05,149.16 C423.73,148.9 424.41,148.52 425.09,148.17 C425.77,147.82 426.46,147.48 427.14,147.08 C427.82,146.68 428.5,146.24 429.18,145.76 C429.86,145.29 430.54,144.7 431.23,144.23 C431.91,143.77 432.59,143.46 433.27,142.99 C433.95,142.52 434.63,141.95 435.31,141.43 C435.99,140.9 436.68,140.4 437.36,139.86 C438.04,139.33 438.72,138.84 439.4,138.21 C440.08,137.58 440.76,136.8 441.44,136.1 C442.12,135.4 442.81,134.72 443.49,133.99 C444.17,133.25 444.85,132.53 445.53,131.7 C446.21,130.88 446.89,129.94 447.57,129.06 C448.26,128.18 448.94,127.29 449.62,126.42 C450.3,125.55 450.98,124.69 451.66,123.84 C452.34,122.99 453.03,122.16 453.71,121.33 C454.39,120.49 455.07,119.68 455.75,118.81 C456.43,117.94 457.11,117.05 457.79,116.09 C458.47,115.13 459.16,114.06 459.84,113.05 C460.52,112.04 461.2,111.02 461.88,110.01 C462.56,109 463.24,108 463.93,106.98 C464.61,105.95 465.29,104.97 465.97,103.85 C466.65,102.73 467.33,101.45 468.01,100.25 C468.69,99.06 469.38,97.86 470.06,96.66 C470.74,95.46 471.42,94.24 472.1,93.06 C472.78,91.89 473.46,90.73 474.14,89.6 C474.82,88.48 475.51,87.41 476.19,86.32 C476.87,85.22 477.55,84.13 478.23,83.03 C478.91,81.94 479.59,80.84 480.27,79.74 C480.96,78.65 481.64,77.5 482.32,76.46 C483,75.42 483.68,74.48 484.36,73.51 C485.04,72.55 485.73,71.61 486.41,70.66 C487.09,69.7 487.77,68.75 488.45,67.8 C489.13,66.85 489.81,65.88 490.49,64.94 C491.17,64 491.86,63.01 492.54,62.13 C493.22,61.26 493.9,60.51 494.58,59.7 C495.26,58.89 495.94,58.08 496.62,57.27 C497.31,56.46 497.99,55.65 498.67,54.84 C499.35,54.03 500.03,53.19 500.71,52.41 C501.39,51.63 502.08,50.87 502.76,50.16 C503.44,49.44 504.12,48.8 504.8,48.13 C505.48,47.45 506.16,46.77 506.84,46.1 C507.52,45.42 508.21,44.74 508.89,44.07 C509.57,43.39 510.25,42.73 510.93,42.04 C511.61,41.35 512.29,40.64 512.98,39.93 C513.66,39.23 514.34,38.49 515.02,37.81 C515.7,37.12 516.38,36.49 517.06,35.85 C517.74,35.2 518.43,34.54 519.11,33.91 C519.79,33.27 520.81,32.34 521.15,32.03" stroke="#ff0000" stroke-width="1.0" fill="none"/>
<path d="M374,151.18 C374.34,151.18 375.36,151.18 376.04,151.18 C376.72,151.18 377.41,151.18 378.09,151.18 C378.77,151.18 379.45,151.18 380.13,151.18 C380.81,151.18 381.49,151.18 382.18,151.18 C382.86,151.18 383.54,151.18 384.22,151.18 C384.9,151.18 385.58,151.18 386.26,151.18 C386.94,151.18 387.62,151.18 388.31,151.18 C388.99,151.18 389.67,151.18 390.35,151.18 C391.03,151.17 391.71,151.16 392.39,151.15 C393.07,151.14 393.76,151.13 394.44,151.12 C395.12,151.11 395.8,151.11 396.48,151.1 C397.16,151.09 397.84,151.08 398.52,151.07 C399.21,151.06 399.89,151.05 400.57,151.04 C401.25,151.04 401.93,151.03 402.61,151.02 C403.29,151.01 403.98,151 404.66,150.99 C405.34,150.98 406.02,150.98 406.7,150.97 C407.38,150.96 408.06,150.96 408.74,150.94 C409.42,150.91 410.11,150.87 410.79,150.83 C411.47,150.8 412.15,150.75 412.83,150.7 C413.51,150.66 414.19,150.61 414.88,150.57 C415.56,150.53 416.24,150.48 416.92,150.44 C417.6,150.39 418.28,150.41 418.96,150.3 C419.64,150.2 420.33,149.96 421.01,149.78 C421.69,149.61 422.37,149.48 423.05,149.25 C423.73,149.02 424.41,148.7 425.09,148.38 C425.77,148.06 426.46,147.69 427.14,147.31 C427.82,146.94 428.5,146.57 429.18,146.12 C429.86,145.68 430.54,145.08 431.23,144.63 C431.91,144.17 432.59,143.85 433.27,143.4 C433.95,142.94 434.63,142.43 435.31,141.93 C435.99,141.42 436.68,140.88 437.36,140.36 C438.04,139.84 438.72,139.4 439.4,138.8 C440.08,138.2 440.76,137.46 441.44,136.78 C442.12,136.09 442.81,135.37 443.49,134.66 C444.17,133.96 444.85,133.34 445.53,132.55 C446.21,131.76 446.89,130.79 447.57,129.91 C448.26,129.03 448.94,128.15 449.62,127.27 C450.3,126.39 450.98,125.5 451.66,124.65 C452.34,123.79 453.03,122.97 453.71,122.13 C454.39,121.29 455.07,120.46 455.75,119.61 C456.43,118.77 457.11,117.99 457.79,117.06 C458.47,116.12 459.16,115.03 459.84,114.02 C460.52,113.01 461.2,112 461.88,110.98 C462.56,109.97 463.24,108.96 463.93,107.95 C464.61,106.94 465.29,106 465.97,104.91 C466.65,103.82 467.33,102.59 468.01,101.4 C468.69,100.22 469.38,99.01 470.06,97.81 C470.74,96.61 471.42,95.41 472.1,94.21 C472.78,93.02 473.46,91.8 474.14,90.66 C474.82,89.51 475.51,88.46 476.19,87.37 C476.87,86.27 477.55,85.18 478.23,84.08 C478.91,82.99 479.59,81.89 480.27,80.8 C480.96,79.7 481.64,78.57 482.32,77.51 C483,76.45 483.68,75.42 484.36,74.43 C485.04,73.44 485.73,72.52 486.41,71.57 C487.09,70.62 487.77,69.67 488.45,68.71 C489.13,67.76 489.81,66.81 490.49,65.85 C491.17,64.9 491.86,63.89 492.54,63 C493.22,62.1 493.9,61.3 494.58,60.48 C495.26,59.66 495.94,58.86 496.62,58.05 C497.31,57.24 497.99,56.43 498.67,55.62 C499.35,54.81 500.03,53.99 500.71,53.19 C501.39,52.39 502.08,51.54 502.76,50.81 C503.44,50.07 504.12,49.45 504.8,48.78 C505.48,48.1 506.16,47.42 506.84,46.75 C507.52,46.07 508.21,45.39 508.89,44.72 C509.57,44.04 510.25,43.37 510.93,42.69 C511.61,42 512.29,41.31 512.98,40.61 C513.66,39.91 514.34,39.18 515.02,38.49 C515.7,37.79 516.38,37.12 517.06,36.47 C517.74,35.81 518.43,35.17 519.11,34.53 C519.79,33.89 520.81,32.94 521.15,32.62" stroke="#00e000" stroke-width="1.1" fill="none"/>
<path d="M374,151.98 C374.34,151.98 375.36,151.98 376.04,151.98 C376.72,151.98 377.41,151.98 378.09,151.98 C378.77,151.98 379.45,151.98 380.13,151.98 C380.81,151.98 381.49,151.98 382.18,151.98 C382.86,151.98 383.54,151.98 384.22,151.98 C384.9,151.98 385.58,151.98 386.26,151.98 C386.94,151.98 387.62,151.98 388.31,151.98 C388.99,151.98 389.67,151.98 390.35,151.98 C391.03,151.97 391.71,151.96 392.39,151.95 C393.07,151.94 393.76,151.93 394.44,151.92 C395.12,151.91 395.8,151.91 396.48,151.9 C397.16,151.89 397.84,151.88 398.52,151.87 C399.21,151.86 399.89,151.85 400.57,151.84 C401.25,151.84 401.93,151.83 402.61,151.82 C403.29,151.81 403.98,151.8 404.66,151.79 C405.34,151.78 406.02,151.77 406.7,151.77 C407.38,151.76 408.06,151.75 408.74,151.74 C409.42,151.73 410.11,151.73 410.79,151.71 C411.47,151.68 412.15,151.64 412.83,151.61 C413.51,151.58 414.19,151.54 414.88,151.51 C415.56,151.48 416.24,151.45 416.92,151.41 C417.6,151.38 418.28,151.35 418.96,151.32 C419.64,151.28 420.33,151.25 421.01,151.22 C421.69,151.19 422.37,151.19 423.05,151.12 C423.73,151.05 424.41,150.92 425.09,150.8 C425.77,150.68 426.46,150.54 427.14,150.4 C427.82,150.27 428.5,150.18 429.18,150.01 C429.86,149.84 430.54,149.64 431.23,149.39 C431.91,149.14 432.59,148.81 433.27,148.51 C433.95,148.22 434.63,147.97 435.31,147.63 C435.99,147.3 436.68,146.9 437.36,146.51 C438.04,146.12 438.72,145.69 439.4,145.28 C440.08,144.87 440.76,144.5 441.44,144.05 C442.12,143.59 442.81,143.05 443.49,142.54 C444.17,142.03 444.85,141.5 445.53,140.98 C446.21,140.45 446.89,140.02 447.57,139.41 C448.26,138.8 448.94,138.02 449.62,137.32 C450.3,136.62 450.98,135.92 451.66,135.21 C452.34,134.49 453.03,133.84 453.71,133.03 C454.39,132.23 455.07,131.27 455.75,130.39 C456.43,129.51 457.11,128.63 457.79,127.75 C458.47,126.88 459.16,126 459.84,125.15 C460.52,124.29 461.2,123.47 461.88,122.63 C462.56,121.79 463.24,120.97 463.93,120.11 C464.61,119.26 465.29,118.44 465.97,117.49 C466.65,116.55 467.33,115.47 468.01,114.46 C468.69,113.44 469.38,112.43 470.06,111.42 C470.74,110.41 471.42,109.4 472.1,108.38 C472.78,107.37 473.46,106.45 474.14,105.35 C474.82,104.24 475.51,102.97 476.19,101.77 C476.87,100.58 477.55,99.38 478.23,98.18 C478.91,96.98 479.59,95.77 480.27,94.58 C480.96,93.4 481.64,92.2 482.32,91.06 C483,89.93 483.68,88.87 484.36,87.77 C485.04,86.68 485.73,85.58 486.41,84.49 C487.09,83.39 487.77,82.3 488.45,81.2 C489.13,80.11 489.81,78.97 490.49,77.91 C491.17,76.86 491.86,75.87 492.54,74.89 C493.22,73.9 493.9,72.98 494.58,72.03 C495.26,71.07 495.94,70.12 496.62,69.17 C497.31,68.22 497.99,67.26 498.67,66.31 C499.35,65.36 500.03,64.34 500.71,63.45 C501.39,62.57 502.08,61.8 502.76,60.99 C503.44,60.17 504.12,59.37 504.8,58.56 C505.48,57.75 506.16,56.94 506.84,56.13 C507.52,55.32 508.21,54.49 508.89,53.7 C509.57,52.9 510.25,52.09 510.93,51.36 C511.61,50.64 512.29,50.01 512.98,49.33 C513.66,48.66 514.34,47.98 515.02,47.3 C515.7,46.63 516.38,45.95 517.06,45.27 C517.74,44.6 518.43,43.93 519.11,43.24 C519.79,42.56 520.81,41.51 521.15,41.16" stroke="#0000ff" stroke-width="1.0" fill="none"/>
<path d="M374,152.28 C374.34,152.28 375.36,152.28 376.04,152.28 C376.72,152.28 377.41,152.28 378.09,152.28 C378.77,152.28 379.45,152.28 380.13,152.28 C380.81,152.28 381.49,152.28 382.18,152.28 C382.86,152.28 383.54,152.28 384.22,152.28 C384.9,152.28 385.58,152.28 386.26,152.28 C386.94,152.28 387.62,152.28 388.31,152.28 C388.99,152.28 389.67,152.28 390.35,152.28 C391.03,152.27 391.71,152.26 392.39,152.25 C393.07,152.24 393.76,152.23 394.44,152.22 C395.12,152.21 395.8,152.21 396.48,152.2 C397.16,152.19 397.84,152.18 398.52,152.17 C399.21,152.16 399.89,152.15 400.57,152.14 C401.25,152.14 401.93,152.13 402.61,152.12 C403.29,152.11 403.98,152.1 404.66,152.09 C405.34,152.08 406.02,152.07 406.7,152.07 C407.38,152.06 408.06,152.05 408.74,152.04 C409.42,152.03 410.11,152.03 410.79,152.01 C411.47,151.99 412.15,151.94 412.83,151.91 C413.51,151.88 414.19,151.85 414.88,151.82 C415.56,151.78 416.24,151.75 416.92,151.72 C417.6,151.69 418.28,151.66 418.96,151.63 C419.64,151.59 420.33,151.56 421.01,151.53 C421.69,151.5 422.37,151.5 423.05,151.43 C423.73,151.37 424.41,151.26 425.09,151.15 C425.77,151.04 426.46,150.89 427.14,150.76 C427.82,150.63 428.5,150.53 429.18,150.38 C429.86,150.22 430.54,150.07 431.23,149.83 C431.91,149.6 432.59,149.25 433.27,148.95 C433.95,148.66 434.63,148.4 435.31,148.07 C435.99,147.75 436.68,147.39 437.36,147.01 C438.04,146.63 438.72,146.19 439.4,145.78 C440.08,145.37 440.76,144.99 441.44,144.54 C442.12,144.1 442.81,143.59 443.49,143.09 C444.17,142.58 444.85,142.05 445.53,141.53 C446.21,141 446.89,140.56 447.57,139.96 C448.26,139.37 448.94,138.65 449.62,137.96 C450.3,137.27 450.98,136.55 451.66,135.85 C452.34,135.14 453.03,134.52 453.71,133.73 C454.39,132.95 455.07,131.99 455.75,131.11 C456.43,130.24 457.11,129.35 457.79,128.47 C458.47,127.6 459.16,126.71 459.84,125.85 C460.52,124.99 461.2,124.17 461.88,123.33 C462.56,122.49 463.24,121.66 463.93,120.82 C464.61,119.97 465.29,119.21 465.97,118.28 C466.65,117.35 467.33,116.25 468.01,115.24 C468.69,114.23 469.38,113.22 470.06,112.21 C470.74,111.19 471.42,110.18 472.1,109.17 C472.78,108.16 473.46,107.22 474.14,106.13 C474.82,105.05 475.51,103.83 476.19,102.65 C476.87,101.47 477.55,100.25 478.23,99.05 C478.91,97.85 479.59,96.65 480.27,95.46 C480.96,94.26 481.64,93.03 482.32,91.89 C483,90.74 483.68,89.7 484.36,88.6 C485.04,87.5 485.73,86.41 486.41,85.31 C487.09,84.22 487.77,83.12 488.45,82.03 C489.13,80.93 489.81,79.8 490.49,78.74 C491.17,77.68 491.86,76.64 492.54,75.64 C493.22,74.65 493.9,73.74 494.58,72.78 C495.26,71.83 495.94,70.88 496.62,69.93 C497.31,68.97 497.99,68.02 498.67,67.07 C499.35,66.12 500.03,65.11 500.71,64.21 C501.39,63.31 502.08,62.51 502.76,61.68 C503.44,60.85 504.12,60.06 504.8,59.25 C505.48,58.44 506.16,57.63 506.84,56.82 C507.52,56.01 508.21,55.19 508.89,54.39 C509.57,53.58 510.25,52.73 510.93,51.99 C511.61,51.25 512.29,50.63 512.98,49.96 C513.66,49.28 514.34,48.6 515.02,47.93 C515.7,47.25 516.38,46.57 517.06,45.9 C517.74,45.22 518.43,44.55 519.11,43.87 C519.79,43.18 520.81,42.14 521.15,41.8" stroke="#b070ff" stroke-width="1.3" fill="none"/>
<path d="M374,151.18 C374.34,151.18 375.36,151.18 376.04,151.18 C376.72,151.18 377.41,151.18 378.09,151.18 C378.77,151.18 379.45,151.18 380.13,151.18 C380.81,151.18 381.49,151.18 382.18,151.18 C382.86,151.18 383.54,151.18 384.22,151.18 C384.9,151.18 385.58,151.18 386.26,151.18 C386.94,151.18 387.62,151.18 388.31,151.18 C388.99,151.18 389.67,151.18 390.35,151.18 C391.03,151.17 391.71,151.16 392.39,151.15 C393.07,151.14 393.76,151.13 394.44,151.12 C395.12,151.11 395.8,151.11 396.48,151.1 C397.16,151.09 397.84,151.08 398.52,151.07 C399.21,151.06 399.89,151.05 400.57,151.04 C401.25,151.04 401.93,151.03 402.61,151.02 C403.29,151.01 403.98,151 404.66,150.99 C405.34,150.98 406.02,150.98 406.7,150.97 C407.38,150.96 408.06,150.96 408.74,150.94 C409.42,150.92 410.11,150.89 410.79,150.85 C411.47,150.82 412.15,150.77 412.83,150.73 C413.51,150.69 414.19,150.65 414.88,150.6 C415.56,150.56 416.24,150.52 416.92,150.48 C417.6,150.44 418.28,150.43 418.96,150.36 C419.64,150.28 420.33,150.17 421.01,150.03 C421.69,149.89 422.37,149.7 423.05,149.53 C423.73,149.36 424.41,149.27 425.09,149.01 C425.77,148.76 426.46,148.35 427.14,148.02 C427.82,147.68 428.5,147.39 429.18,147.02 C429.86,146.65 430.54,146.22 431.23,145.81 C431.91,145.4 432.59,144.99 433.27,144.58 C433.95,144.17 434.63,143.8 435.31,143.35 C435.99,142.89 436.68,142.37 437.36,141.86 C438.04,141.35 438.72,140.82 439.4,140.3 C440.08,139.78 440.76,139.34 441.44,138.74 C442.12,138.14 442.81,137.38 443.49,136.69 C444.17,136 444.85,135.29 445.53,134.58 C446.21,133.87 446.89,133.24 447.57,132.44 C448.26,131.65 448.94,130.68 449.62,129.8 C450.3,128.92 450.98,128.04 451.66,127.16 C452.34,126.29 453.03,125.4 453.71,124.55 C454.39,123.69 455.07,122.87 455.75,122.03 C456.43,121.19 457.11,120.36 457.79,119.51 C458.47,118.67 459.16,117.87 459.84,116.94 C460.52,116 461.2,114.91 461.88,113.9 C462.56,112.89 463.24,111.87 463.93,110.86 C464.61,109.85 465.29,108.84 465.97,107.83 C466.65,106.81 467.33,105.88 468.01,104.79 C468.69,103.7 469.38,102.45 470.06,101.26 C470.74,100.07 471.42,98.86 472.1,97.67 C472.78,96.47 473.46,95.26 474.14,94.07 C474.82,92.88 475.51,91.66 476.19,90.52 C476.87,89.39 477.55,88.33 478.23,87.24 C478.91,86.14 479.59,85.05 480.27,83.95 C480.96,82.86 481.64,81.76 482.32,80.66 C483,79.57 483.68,78.44 484.36,77.38 C485.04,76.32 485.73,75.3 486.41,74.31 C487.09,73.33 487.77,72.41 488.45,71.46 C489.13,70.5 489.81,69.55 490.49,68.6 C491.17,67.65 491.86,66.69 492.54,65.74 C493.22,64.79 493.9,63.78 494.58,62.88 C495.26,61.99 495.94,61.2 496.62,60.38 C497.31,59.56 497.99,58.76 498.67,57.95 C499.35,57.14 500.03,56.33 500.71,55.52 C501.39,54.71 502.08,53.89 502.76,53.09 C503.44,52.29 504.12,51.46 504.8,50.73 C505.48,49.99 506.16,49.37 506.84,48.7 C507.52,48.02 508.21,47.34 508.89,46.67 C509.57,45.99 510.25,45.31 510.93,44.64 C511.61,43.96 512.29,43.29 512.98,42.61 C513.66,41.92 514.34,41.23 515.02,40.53 C515.7,39.83 516.38,39.09 517.06,38.4 C517.74,37.71 518.43,37.05 519.11,36.39 C519.79,35.73 520.81,34.77 521.15,34.45" stroke="#00ffff" stroke-width="3.4" fill="none"/>
<path d="M374,151.18 C374.34,151.18 375.36,151.18 376.04,151.18 C376.72,151.18 377.41,151.18 378.09,151.18 C378.77,151.18 379.45,151.18 380.13,151.18 C380.81,151.18 381.49,151.18 382.18,151.18 C382.86,151.18 383.54,151.18 384.22,151.18 C384.9,151.18 385.58,151.18 386.26,151.18 C386.94,151.18 387.62,151.18 388.31,151.18 C388.99,151.18 389.67,151.18 390.35,151.18 C391.03,151.17 391.71,151.16 392.39,151.15 C393.07,151.14 393.76,151.13 394.44,151.12 C395.12,151.11 395.8,151.11 396.48,151.1 C397.16,151.09 397.84,151.08 398.52,151.07 C399.21,151.06 399.89,151.05 400.57,151.04 C401.25,151.04 401.93,151.03 402.61,151.02 C403.29,151.01 403.98,151 404.66,150.99 C405.34,150.98 406.02,150.98 406.7,150.97 C407.38,150.96 408.06,150.95 408.74,150.94 C409.42,150.93 410.11,150.91 410.79,150.88 C411.47,150.85 412.15,150.81 412.83,150.77 C413.51,150.74 414.19,150.7 414.88,150.66 C415.56,150.63 416.24,150.59 416.92,150.55 C417.6,150.52 418.28,150.48 418.96,150.44 C419.64,150.41 420.33,150.41 421.01,150.33 C421.69,150.26 422.37,150.13 423.05,150 C423.73,149.87 424.41,149.71 425.09,149.56 C425.77,149.41 426.46,149.33 427.14,149.12 C427.82,148.91 428.5,148.59 429.18,148.31 C429.86,148.03 430.54,147.72 431.23,147.43 C431.91,147.14 432.59,146.9 433.27,146.55 C433.95,146.2 434.63,145.73 435.31,145.32 C435.99,144.91 436.68,144.5 437.36,144.09 C438.04,143.67 438.72,143.27 439.4,142.8 C440.08,142.33 440.76,141.76 441.44,141.24 C442.12,140.72 442.81,140.22 443.49,139.68 C444.17,139.13 444.85,138.6 445.53,137.96 C446.21,137.32 446.89,136.55 447.57,135.85 C448.26,135.14 448.94,134.48 449.62,133.73 C450.3,132.99 450.98,132.22 451.66,131.39 C452.34,130.56 453.03,129.63 453.71,128.75 C454.39,127.87 455.07,126.97 455.75,126.11 C456.43,125.24 457.11,124.39 457.79,123.54 C458.47,122.69 459.16,121.86 459.84,121.02 C460.52,120.19 461.2,119.39 461.88,118.51 C462.56,117.62 463.24,116.69 463.93,115.72 C464.61,114.75 465.29,113.7 465.97,112.68 C466.65,111.67 467.33,110.66 468.01,109.65 C468.69,108.64 469.38,107.65 470.06,106.61 C470.74,105.57 471.42,104.55 472.1,103.42 C472.78,102.29 473.46,101.02 474.14,99.82 C474.82,98.62 475.51,97.43 476.19,96.23 C476.87,95.03 477.55,93.8 478.23,92.63 C478.91,91.46 479.59,90.33 480.27,89.21 C480.96,88.09 481.64,87.02 482.32,85.92 C483,84.83 483.68,83.73 484.36,82.64 C485.04,81.54 485.73,80.45 486.41,79.35 C487.09,78.25 487.77,77.09 488.45,76.06 C489.13,75.03 489.81,74.13 490.49,73.17 C491.17,72.21 491.86,71.27 492.54,70.31 C493.22,69.36 493.9,68.41 494.58,67.45 C495.26,66.5 495.94,65.53 496.62,64.6 C497.31,63.66 497.99,62.71 498.67,61.84 C499.35,60.98 500.03,60.22 500.71,59.41 C501.39,58.6 502.08,57.79 502.76,56.98 C503.44,56.17 504.12,55.36 504.8,54.55 C505.48,53.74 506.16,52.89 506.84,52.12 C507.52,51.35 508.21,50.62 508.89,49.91 C509.57,49.21 510.25,48.56 510.93,47.88 C511.61,47.21 512.29,46.53 512.98,45.85 C513.66,45.18 514.34,44.5 515.02,43.82 C515.7,43.15 516.38,42.48 517.06,41.79 C517.74,41.1 518.43,40.38 519.11,39.68 C519.79,38.97 520.81,37.9 521.15,37.55" stroke="#808000" stroke-width="2.9" fill="none"/>
<path d="M373.5,151.48H416.51" stroke="#808000" stroke-width="3.8"/>
<path d="M373,153.38h4" stroke="#9060ff" stroke-width="0.8"/>
<circle cx="414.88" cy="151.61" r="0.75" fill="#000"/><circle cx="416.92" cy="151.52" r="0.75" fill="#000"/><circle cx="418.96" cy="151.42" r="0.75" fill="#000"/><circle cx="421.01" cy="151.32" r="0.75" fill="#000"/><circle cx="423.05" cy="151.22" r="0.75" fill="#000"/><circle cx="425.09" cy="150.91" r="0.75" fill="#000"/><circle cx="427.14" cy="150.52" r="0.75" fill="#000"/><circle cx="429.18" cy="150.13" r="0.75" fill="#000"/><circle cx="431.23" cy="149.53" r="0.75" fill="#000"/><circle cx="433.27" cy="148.65" r="0.75" fill="#000"/><circle cx="435.31" cy="147.77" r="0.75" fill="#000"/><circle cx="437.36" cy="146.66" r="0.75" fill="#000"/><circle cx="439.4" cy="145.43" r="0.75" fill="#000"/><circle cx="441.44" cy="144.2" r="0.75" fill="#000"/><circle cx="443.49" cy="142.7" r="0.75" fill="#000"/><circle cx="445.53" cy="141.14" r="0.75" fill="#000"/><circle cx="447.57" cy="139.58" r="0.75" fill="#000"/><circle cx="449.62" cy="137.51" r="0.75" fill="#000"/><circle cx="451.66" cy="135.39" r="0.75" fill="#000"/><circle cx="453.71" cy="133.24" r="0.75" fill="#000"/><circle cx="455.75" cy="130.6" r="0.75" fill="#000"/><circle cx="457.79" cy="127.96" r="0.75" fill="#000"/><circle cx="459.84" cy="125.35" r="0.75" fill="#000"/><circle cx="461.88" cy="122.83" r="0.75" fill="#000"/><circle cx="463.93" cy="120.31" r="0.75" fill="#000"/><circle cx="465.97" cy="117.71" r="0.75" fill="#000"/><circle cx="468.01" cy="114.68" r="0.75" fill="#000"/><circle cx="470.06" cy="111.64" r="0.75" fill="#000"/><circle cx="472.1" cy="108.6" r="0.75" fill="#000"/><circle cx="474.14" cy="105.57" r="0.75" fill="#000"/><circle cx="476.19" cy="102.02" r="0.75" fill="#000"/><circle cx="478.23" cy="98.42" r="0.75" fill="#000"/><circle cx="480.27" cy="94.83" r="0.75" fill="#000"/><circle cx="482.32" cy="91.29" r="0.75" fill="#000"/><circle cx="484.36" cy="88.01" r="0.75" fill="#000"/><circle cx="486.41" cy="84.72" r="0.75" fill="#000"/><circle cx="488.45" cy="81.43" r="0.75" fill="#000"/><circle cx="490.49" cy="78.15" r="0.75" fill="#000"/><circle cx="492.54" cy="75.1" r="0.75" fill="#000"/><circle cx="494.58" cy="72.24" r="0.75" fill="#000"/><circle cx="496.62" cy="69.38" r="0.75" fill="#000"/><circle cx="498.67" cy="66.53" r="0.75" fill="#000"/><circle cx="500.71" cy="63.67" r="0.75" fill="#000"/><circle cx="502.76" cy="61.19" r="0.75" fill="#000"/><circle cx="504.8" cy="58.76" r="0.75" fill="#000"/><circle cx="506.84" cy="56.32" r="0.75" fill="#000"/><circle cx="508.89" cy="53.89" r="0.75" fill="#000"/><circle cx="510.93" cy="51.54" r="0.75" fill="#000"/><circle cx="512.98" cy="49.51" r="0.75" fill="#000"/><circle cx="515.02" cy="47.48" r="0.75" fill="#000"/><circle cx="517.06" cy="45.45" r="0.75" fill="#000"/><circle cx="519.11" cy="43.42" r="0.75" fill="#000"/><circle cx="521.15" cy="41.34" r="0.75" fill="#000"/>
<rect x="353.3" y="13.8" width="184.2" height="150.2" fill="none" stroke="#000" stroke-width="1.3"/>
<path d="M374,164v-3M374,13.8v3M414.88,164v-3M414.88,13.8v3M455.75,164v-3M455.75,13.8v3M496.62,164v-3M496.62,13.8v3" stroke="#000" stroke-width="1.0" fill="none"/>
<path d="M394.44,164v-1.6M394.44,13.8v1.6M435.31,164v-1.6M435.31,13.8v1.6M476.19,164v-1.6M476.19,13.8v1.6M517.06,164v-1.6M517.06,13.8v1.6" stroke="#000" stroke-width="1.0" fill="none"/>
<path d="M353.3,151.8h3M537.5,151.8h-3M353.3,126.64h3M537.5,126.64h-3M353.3,101.48h3M537.5,101.48h-3M353.3,76.32h3M537.5,76.32h-3M353.3,51.16h3M537.5,51.16h-3M353.3,26h3M537.5,26h-3" stroke="#000" stroke-width="1.0" fill="none"/>
<path d="M353.3,164.38h1.6M537.5,164.38h-1.6M353.3,139.22h1.6M537.5,139.22h-1.6M353.3,114.06h1.6M537.5,114.06h-1.6M353.3,88.9h1.6M537.5,88.9h-1.6M353.3,63.74h1.6M537.5,63.74h-1.6M353.3,38.58h1.6M537.5,38.58h-1.6" stroke="#000" stroke-width="1.0" fill="none"/>
<text x="374" y="174.5" font-size="8.5" text-anchor="middle" >0</text>
<text x="414.88" y="174.5" font-size="8.5" text-anchor="middle" >5</text>
<text x="455.75" y="174.5" font-size="8.5" text-anchor="middle" >10</text>
<text x="496.62" y="174.5" font-size="8.5" text-anchor="middle" >15</text>
<text x="537.5" y="174.5" font-size="8.5" text-anchor="middle" >20</text>
<text x="349.8" y="154.9" font-size="8.5" text-anchor="end" >0</text>
<text x="349.8" y="129.74" font-size="8.5" text-anchor="end" >2</text>
<text x="349.8" y="104.58" font-size="8.5" text-anchor="end" >4</text>
<text x="349.8" y="79.42" font-size="8.5" text-anchor="end" >6</text>
<text x="349.8" y="54.26" font-size="8.5" text-anchor="end" >8</text>
<text x="349.8" y="29.1" font-size="8.5" text-anchor="end" >10</text>
<text x="367.2" y="189.2" font-size="12.2" xml:space="preserve">Gate-source voltage  <tspan font-style="italic">V</tspan><tspan font-size="8" dy="4.3" style="stroke:none">GS</tspan><tspan dy="-4.3"> (V)</tspan></text>
<text transform="translate(332.6,148.8) rotate(-90)" font-size="12.2">Drain current <tspan font-style="italic">I</tspan><tspan font-size="8" dy="4.3" style="stroke:none">D</tspan><tspan dy="-4.3"> (A)</tspan></text>
<text x="375.3" y="27.3" font-size="8.2" text-anchor="start" >#UIS pulses</text>
<path d="M375.3,34.9H393.3" stroke="#000000" stroke-width="1.35"/>
<rect x="382.4" y="33" width="3.8" height="3.8" fill="#000000"/>
<text x="396" y="37.85" font-size="8.2" text-anchor="start" >virgin</text>
<path d="M375.3,44.9H393.3" stroke="#ff0000" stroke-width="1.35"/>
<circle cx="384.3" cy="44.9" r="1.9" fill="#ff0000"/>
<text x="396" y="47.85" font-size="8.2" text-anchor="start" >10k</text>
<path d="M375.3,54.9H393.3" stroke="#00e000" stroke-width="1.35"/>
<path d="M384.3,52.62L386.39,56.42L382.21,56.42Z" fill="#00e000"/>
<text x="396" y="57.85" font-size="8.2" text-anchor="start" >100k</text>
<path d="M375.3,64.9H393.3" stroke="#0000ff" stroke-width="1.35"/>
<path d="M384.3,67.18L386.39,63.38L382.21,63.38Z" fill="#0000ff"/>
<text x="396" y="67.85" font-size="8.2" text-anchor="start" >500k</text>
<path d="M375.3,74.9H393.3" stroke="#00ffff" stroke-width="1.35"/>
<path d="M384.3,72.43L386.39,74.9L384.3,77.37L382.21,74.9Z" fill="#00ffff"/>
<text x="396" y="77.85" font-size="8.2" text-anchor="start" >2M</text>
<path d="M375.3,84.9H393.3" stroke="#ff80ff" stroke-width="1.35"/>
<path d="M382.02,84.9L385.82,82.81L385.82,86.99Z" fill="#ff80ff"/>
<text x="396" y="87.85" font-size="8.2" text-anchor="start" >5M</text>
<path d="M375.3,94.9H393.3" stroke="#808000" stroke-width="1.35"/>
<path d="M386.58,94.9L382.78,92.81L382.78,96.99Z" fill="#808000"/>
<text x="396" y="97.85" font-size="8.2" text-anchor="start" >7M</text>
<text x="475.7" y="31.4" font-size="8.2" text-anchor="start" >#UIS pulses</text>
<path d="M519.5,57.2L507.62,42.85" stroke="#000" stroke-width="1.8" stroke-linecap="round"/>
<path d="M502.2,36.3L511.59,42.16L508.39,43.77L506.2,46.62Z" fill="#000"/>
<text x="441" y="217.5" font-size="12.4" text-anchor="middle" style="font-family:'Liberation Serif',serif">(b)</text>
<path d="M92.4,392.6 C94.43,391.73 100.65,389.52 104.6,387.4 C108.55,385.28 112.13,382.53 116.1,379.9 C120.07,377.27 124.25,375.32 128.4,371.6 C132.55,367.88 136.9,362.1 141,357.6 C145.1,353.1 148.9,348.43 153,344.6 C157.1,340.77 161.5,337.6 165.6,334.6 C169.7,331.6 173.53,329.1 177.6,326.6 C181.67,324.1 185.87,322.27 190,319.6 C194.13,316.93 199.4,313.2 202.4,310.6 C205.4,308 206.4,306.6 208,304 C209.6,301.4 211,298.17 212,295 C213,291.83 213.5,288.17 214,285 C214.5,281.83 214.67,281.67 215,276 C215.33,270.33 215.83,255.17 216,251" stroke="#000" stroke-width="1.7" fill="none"/>
<rect x="90.4" y="390.6" width="4" height="4" fill="#000"/><rect x="102.6" y="385.4" width="4" height="4" fill="#000"/><rect x="114.1" y="377.9" width="4" height="4" fill="#000"/><rect x="126.4" y="369.6" width="4" height="4" fill="#000"/><rect x="139" y="355.6" width="4" height="4" fill="#000"/><rect x="151" y="342.6" width="4" height="4" fill="#000"/><rect x="163.6" y="332.6" width="4" height="4" fill="#000"/><rect x="175.6" y="324.6" width="4" height="4" fill="#000"/><rect x="188" y="317.6" width="4" height="4" fill="#000"/><rect x="200.4" y="308.6" width="4" height="4" fill="#000"/><rect x="213" y="274" width="4" height="4" fill="#000"/>
<path d="M52.3,393.2 C52.98,393.65 54.37,394.95 56.4,395.9 C58.43,396.85 61.78,398.45 64.5,398.9 C67.22,399.35 69.68,399.02 72.7,398.6 C75.72,398.18 79.32,397.3 82.6,396.4 C85.88,395.5 89.68,394.33 92.4,393.2 C95.12,392.07 97.13,391.23 98.9,389.61 C100.67,388 101.63,385.53 103,383.51 C104.37,381.49 105.73,379.78 107.1,377.51 C108.47,375.24 109.57,372.61 111.2,369.91 C112.83,367.2 115.1,364 116.9,361.29 C118.7,358.57 120.15,355.97 122,353.61 C123.85,351.26 125.33,349.7 128,347.17 C130.67,344.64 135,341.08 138,338.44 C141,335.79 144,333 146,331.29 C148,329.58 147.63,329.44 150,328.19 C152.37,326.94 156.8,325.17 160.2,323.79 C163.6,322.4 167.02,321.17 170.4,319.89 C173.78,318.6 177.12,317.35 180.5,316.09 C183.88,314.82 187.3,313.77 190.7,312.29 C194.1,310.8 198.13,308.67 200.9,307.19 C203.67,305.7 205.5,304.97 207.3,303.39 C209.1,301.8 210.72,299.37 211.7,297.69 C212.68,296 212.75,295.85 213.2,293.29 C213.65,290.72 214,289.12 214.4,282.29 C214.8,275.45 215.4,257.29 215.6,252.29" stroke="#ff0000" stroke-width="2.2" fill="none"/>
<path d="M52.3,392.2 C52.98,392.65 54.37,393.95 56.4,394.9 C58.43,395.85 61.78,397.45 64.5,397.9 C67.22,398.35 69.68,398.02 72.7,397.6 C75.72,397.18 79.32,396.3 82.6,395.4 C85.88,394.5 89.68,393.32 92.4,392.2 C95.12,391.08 97.13,390.27 98.9,388.68 C100.67,387.08 101.63,384.63 103,382.64 C104.37,380.64 105.73,378.95 107.1,376.7 C108.47,374.46 109.57,371.84 111.2,369.17 C112.83,366.49 115.1,363.33 116.9,360.64 C118.7,357.95 120.15,355.37 122,353.04 C123.85,350.72 125.33,349.19 128,346.7 C130.67,344.21 135,340.74 138,338.12 C141,335.51 144,332.71 146,331.01 C148,329.31 147.63,329.16 150,327.91 C152.37,326.66 156.8,324.89 160.2,323.51 C163.6,322.12 167.02,320.89 170.4,319.61 C173.78,318.32 177.12,317.07 180.5,315.81 C183.88,314.54 187.3,313.49 190.7,312.01 C194.1,310.52 198.13,308.39 200.9,306.91 C203.67,305.42 205.5,304.69 207.3,303.11 C209.1,301.52 210.72,299.09 211.7,297.41 C212.68,295.72 212.75,295.57 213.2,293.01 C213.65,290.44 214,288.84 214.4,282.01 C214.8,275.17 215.4,257.01 215.6,252.01" stroke="#00e000" stroke-width="1.6" fill="none"/>
<path d="M52.3,391.4 C52.98,391.85 54.37,393.15 56.4,394.1 C58.43,395.05 61.78,396.65 64.5,397.1 C67.22,397.55 69.68,397.22 72.7,396.8 C75.72,396.38 79.32,395.5 82.6,394.6 C85.88,393.7 89.68,392.51 92.4,391.4 C95.12,390.29 97.13,389.5 98.9,387.93 C100.67,386.35 101.63,383.92 103,381.94 C104.37,379.96 105.73,378.29 107.1,376.06 C108.47,373.83 109.57,371.23 111.2,368.57 C112.83,365.92 115.1,362.78 116.9,360.12 C118.7,357.45 120.15,354.89 122,352.59 C123.85,350.29 125.33,348.77 128,346.32 C130.67,343.87 135,340.46 138,337.87 C141,335.28 144,332.48 146,330.78 C148,329.09 147.63,328.93 150,327.68 C152.37,326.43 156.8,324.67 160.2,323.28 C163.6,321.9 167.02,320.67 170.4,319.38 C173.78,318.1 177.12,316.85 180.5,315.58 C183.88,314.32 187.3,313.27 190.7,311.78 C194.1,310.3 198.13,308.17 200.9,306.68 C203.67,305.2 205.5,304.47 207.3,302.88 C209.1,301.3 210.72,298.87 211.7,297.18 C212.68,295.5 212.75,295.35 213.2,292.78 C213.65,290.22 214,288.62 214.4,281.78 C214.8,274.95 215.4,256.78 215.6,251.78" stroke="#0000ff" stroke-width="1.6" fill="none"/>
<path d="M52.3,391 C52.98,391.45 54.37,392.75 56.4,393.7 C58.43,394.65 61.78,396.25 64.5,396.7 C67.22,397.15 69.68,396.82 72.7,396.4 C75.72,395.98 79.32,395.1 82.6,394.2 C85.88,393.3 89.68,392.11 92.4,391 C95.12,389.89 97.13,389.12 98.9,387.55 C100.67,385.98 101.63,383.56 103,381.59 C104.37,379.62 105.73,377.95 107.1,375.74 C108.47,373.52 109.57,370.92 111.2,368.28 C112.83,365.63 115.1,362.51 116.9,359.86 C118.7,357.21 120.15,354.65 122,352.36 C123.85,350.08 125.33,348.57 128,346.13 C130.67,343.7 135,340.33 138,337.75 C141,335.17 144,332.37 146,330.67 C148,328.98 147.63,328.82 150,327.57 C152.37,326.32 156.8,324.56 160.2,323.17 C163.6,321.79 167.02,320.56 170.4,319.27 C173.78,317.99 177.12,316.74 180.5,315.47 C183.88,314.21 187.3,313.16 190.7,311.67 C194.1,310.19 198.13,308.06 200.9,306.57 C203.67,305.09 205.5,304.36 207.3,302.77 C209.1,301.19 210.72,298.76 211.7,297.07 C212.68,295.39 212.75,295.24 213.2,292.67 C213.65,290.11 214,288.51 214.4,281.67 C214.8,274.84 215.4,256.67 215.6,251.67" stroke="#00ffff" stroke-width="2.0" fill="none"/>
<path d="M52.3,388.6 C52.98,389.05 54.37,390.35 56.4,391.3 C58.43,392.25 61.78,393.85 64.5,394.3 C67.22,394.75 69.68,394.42 72.7,394 C75.72,393.58 79.32,392.7 82.6,391.8 C85.88,390.9 89.68,389.68 92.4,388.6 C95.12,387.52 97.13,386.82 98.9,385.3 C100.67,383.78 101.63,381.42 103,379.5 C104.37,377.58 105.73,375.97 107.1,373.8 C108.47,371.63 109.57,369.08 111.2,366.5 C112.83,363.92 115.1,360.88 116.9,358.3 C118.7,355.72 120.15,353.22 122,351 C123.85,348.78 125.33,347.33 128,345 C130.67,342.67 135,339.5 138,337 C141,334.5 144,331.68 146,330 C148,328.32 147.63,328.15 150,326.9 C152.37,325.65 156.8,323.88 160.2,322.5 C163.6,321.12 167.02,319.88 170.4,318.6 C173.78,317.32 177.12,316.07 180.5,314.8 C183.88,313.53 187.3,312.48 190.7,311 C194.1,309.52 198.13,307.38 200.9,305.9 C203.67,304.42 205.5,303.68 207.3,302.1 C209.1,300.52 210.72,298.08 211.7,296.4 C212.68,294.72 212.75,294.57 213.2,292 C213.65,289.43 214,287.83 214.4,281 C214.8,274.17 215.4,256 215.6,251" stroke="#ff00ff" stroke-width="2.8" fill="none"/>
<path d="M54.4,333 C55.33,335.5 58.57,345 60,348 C61.43,351 61.33,349.93 63,351 C64.67,352.07 67.5,353.5 70,354.4 C72.5,355.3 75.17,356.4 78,356.4 C80.83,356.4 84.17,355.4 87,354.4 C89.83,353.4 92.33,351.8 95,350.4 C97.67,349 100.33,347.57 103,346 C105.67,344.43 108.33,342.33 111,341 C113.67,339.67 116.33,339.17 119,338 C121.67,336.83 124.17,335.4 127,334 C129.83,332.6 133.33,330.85 136,329.6 C138.67,328.35 140.67,327.48 143,326.5 C145.33,325.52 147.13,325.02 150,323.7 C152.87,322.38 156.8,320.08 160.2,318.6 C163.6,317.12 167.02,315.97 170.4,314.8 C173.78,313.63 177.12,312.77 180.5,311.6 C183.88,310.43 187.3,309.28 190.7,307.8 C194.1,306.32 198.13,304.18 200.9,302.7 C203.67,301.22 205.6,300.38 207.3,298.9 C209,297.42 210.15,295.37 211.1,293.8 C212.05,292.23 212.45,291.8 213,289.5 C213.55,287.2 214.02,284.08 214.4,280 C214.78,275.92 215.03,270 215.3,265 C215.57,260 215.88,252.5 216,250" stroke="#808000" stroke-width="2.4" fill="none"/>
<path d="M50.26,389.51L55.66,386.54L55.66,392.48Z" fill="#ff00ff"/><path d="M58.41,393.53L63.81,390.56L63.81,396.5Z" fill="#ff00ff"/><path d="M66.56,394.37L71.96,391.4L71.96,397.34Z" fill="#ff00ff"/><path d="M74.71,392.99L80.11,390.02L80.11,395.96Z" fill="#ff00ff"/><path d="M82.86,390.78L88.26,387.81L88.26,393.75Z" fill="#ff00ff"/><path d="M91.01,387.87L96.41,384.9L96.41,390.84Z" fill="#ff00ff"/><path d="M99.16,380.4L104.56,377.43L104.56,383.37Z" fill="#ff00ff"/><path d="M107.31,367.57L112.71,364.6L112.71,370.54Z" fill="#ff00ff"/><path d="M115.46,355.62L120.86,352.65L120.86,358.59Z" fill="#ff00ff"/><path d="M123.61,346.02L129.01,343.05L129.01,348.99Z" fill="#ff00ff"/><path d="M131.76,339.41L137.16,336.44L137.16,342.38Z" fill="#ff00ff"/><path d="M139.91,332.5L145.31,329.53L145.31,335.47Z" fill="#ff00ff"/><path d="M148.06,326.26L153.46,323.29L153.46,329.23Z" fill="#ff00ff"/><path d="M156.21,322.8L161.61,319.83L161.61,325.77Z" fill="#ff00ff"/><path d="M164.36,319.65L169.76,316.68L169.76,322.62Z" fill="#ff00ff"/><path d="M172.51,316.58L177.91,313.61L177.91,319.55Z" fill="#ff00ff"/><path d="M180.66,313.58L186.06,310.61L186.06,316.55Z" fill="#ff00ff"/><path d="M188.81,310.39L194.21,307.42L194.21,313.36Z" fill="#ff00ff"/><path d="M196.96,306.27L202.36,303.3L202.36,309.24Z" fill="#ff00ff"/><path d="M205.11,301.07L210.51,298.1L210.51,304.04Z" fill="#ff00ff"/>
<path d="M58.16,334.1L52.56,331.02L52.56,337.18Z" fill="#808000"/><path d="M66.31,350.97L60.71,347.89L60.71,354.05Z" fill="#808000"/><path d="M74.46,354.8L68.86,351.72L68.86,357.88Z" fill="#808000"/><path d="M82.61,356.34L77.01,353.26L77.01,359.42Z" fill="#808000"/><path d="M90.76,354.25L85.16,351.17L85.16,357.33Z" fill="#808000"/><path d="M98.91,350.11L93.31,347.03L93.31,353.19Z" fill="#808000"/><path d="M107.06,345.58L101.46,342.5L101.46,348.66Z" fill="#808000"/><path d="M115.21,340.6L109.61,337.52L109.61,343.68Z" fill="#808000"/><path d="M123.36,337.55L117.76,334.47L117.76,340.63Z" fill="#808000"/><path d="M131.51,333.43L125.91,330.35L125.91,336.51Z" fill="#808000"/><path d="M139.66,329.46L134.06,326.38L134.06,332.54Z" fill="#808000"/><path d="M147.81,325.92L142.21,322.84L142.21,329Z" fill="#808000"/><path d="M155.96,322.41L150.36,319.33L150.36,325.49Z" fill="#808000"/><path d="M164.11,318.36L158.51,315.28L158.51,321.44Z" fill="#808000"/><path d="M172.26,315.32L166.66,312.24L166.66,318.4Z" fill="#808000"/><path d="M180.41,312.71L174.81,309.63L174.81,315.79Z" fill="#808000"/><path d="M188.56,309.96L182.96,306.88L182.96,313.04Z" fill="#808000"/><path d="M196.71,306.58L191.11,303.5L191.11,309.66Z" fill="#808000"/><path d="M204.86,302.38L199.26,299.3L199.26,305.46Z" fill="#808000"/><path d="M213.01,296.13L207.41,293.05L207.41,299.21Z" fill="#808000"/><path d="M219.36,251L213.76,247.92L213.76,254.08Z" fill="#808000"/>
<rect x="39.2" y="249.2" width="195.3" height="159.6" fill="none" stroke="#000" stroke-width="1.3"/>
<path d="M55.2,408.8v-3M55.2,249.2v3M87.9,408.8v-3M87.9,249.2v3M120.6,408.8v-3M120.6,249.2v3M153.3,408.8v-3M153.3,249.2v3M186,408.8v-3M186,249.2v3M218.7,408.8v-3M218.7,249.2v3" stroke="#000" stroke-width="1.0" fill="none"/>
<path d="M71.55,408.8v-1.6M71.55,249.2v1.6M104.25,408.8v-1.6M104.25,249.2v1.6M136.95,408.8v-1.6M136.95,249.2v1.6M169.65,408.8v-1.6M169.65,249.2v1.6M202.35,408.8v-1.6M202.35,249.2v1.6" stroke="#000" stroke-width="1.0" fill="none"/>
<path d="M39.2,281.7h3M234.5,281.7h-3M39.2,313.9h3M234.5,313.9h-3M39.2,346.1h3M234.5,346.1h-3M39.2,378.3h3M234.5,378.3h-3" stroke="#000" stroke-width="1.0" fill="none"/>
<path d="M39.2,400.81h1.6M234.5,400.81h-1.6M39.2,395.14h1.6M234.5,395.14h-1.6M39.2,391.11h1.6M234.5,391.11h-1.6M39.2,387.99h1.6M234.5,387.99h-1.6M39.2,385.44h1.6M234.5,385.44h-1.6M39.2,383.29h1.6M234.5,383.29h-1.6M39.2,381.42h1.6M234.5,381.42h-1.6M39.2,379.77h1.6M234.5,379.77h-1.6M39.2,368.61h1.6M234.5,368.61h-1.6M39.2,362.94h1.6M234.5,362.94h-1.6M39.2,358.91h1.6M234.5,358.91h-1.6M39.2,355.79h1.6M234.5,355.79h-1.6M39.2,353.24h1.6M234.5,353.24h-1.6M39.2,351.09h1.6M234.5,351.09h-1.6M39.2,349.22h1.6M234.5,349.22h-1.6M39.2,347.57h1.6M234.5,347.57h-1.6M39.2,336.41h1.6M234.5,336.41h-1.6M39.2,330.74h1.6M234.5,330.74h-1.6M39.2,326.71h1.6M234.5,326.71h-1.6M39.2,323.59h1.6M234.5,323.59h-1.6M39.2,321.04h1.6M234.5,321.04h-1.6M39.2,318.89h1.6M234.5,318.89h-1.6M39.2,317.02h1.6M234.5,317.02h-1.6M39.2,315.37h1.6M234.5,315.37h-1.6M39.2,304.21h1.6M234.5,304.21h-1.6M39.2,298.54h1.6M234.5,298.54h-1.6M39.2,294.51h1.6M234.5,294.51h-1.6M39.2,291.39h1.6M234.5,291.39h-1.6M39.2,288.84h1.6M234.5,288.84h-1.6M39.2,286.69h1.6M234.5,286.69h-1.6M39.2,284.82h1.6M234.5,284.82h-1.6M39.2,283.17h1.6M234.5,283.17h-1.6M39.2,272.01h1.6M234.5,272.01h-1.6M39.2,266.34h1.6M234.5,266.34h-1.6M39.2,262.31h1.6M234.5,262.31h-1.6M39.2,259.19h1.6M234.5,259.19h-1.6M39.2,256.64h1.6M234.5,256.64h-1.6M39.2,254.49h1.6M234.5,254.49h-1.6M39.2,252.62h1.6M234.5,252.62h-1.6M39.2,250.97h1.6M234.5,250.97h-1.6" stroke="#000" stroke-width="0.8" fill="none"/>
<text x="55.2" y="419.5" font-size="8.5" text-anchor="middle" >0.8</text>
<text x="87.9" y="419.5" font-size="8.5" text-anchor="middle" >0.9</text>
<text x="120.6" y="419.5" font-size="8.5" text-anchor="middle" >1.0</text>
<text x="153.3" y="419.5" font-size="8.5" text-anchor="middle" >1.1</text>
<text x="186" y="419.5" font-size="8.5" text-anchor="middle" >1.2</text>
<text x="218.7" y="419.5" font-size="8.5" text-anchor="middle" >1.3</text>
<text x="35.6" y="253.1" font-size="8.2" text-anchor="end">10<tspan font-size="5" dy="-4.5" style="fill:#444;stroke:none">-4</tspan></text>
<text x="35.6" y="285.3" font-size="8.2" text-anchor="end">10<tspan font-size="5" dy="-4.5" style="fill:#444;stroke:none">-5</tspan></text>
<text x="35.6" y="317.5" font-size="8.2" text-anchor="end">10<tspan font-size="5" dy="-4.5" style="fill:#444;stroke:none">-6</tspan></text>
<text x="35.6" y="349.7" font-size="8.2" text-anchor="end">10<tspan font-size="5" dy="-4.5" style="fill:#444;stroke:none">-7</tspan></text>
<text x="35.6" y="381.9" font-size="8.2" text-anchor="end">10<tspan font-size="5" dy="-4.5" style="fill:#444;stroke:none">-8</tspan></text>
<text x="56.6" y="436.3" font-size="12.05" xml:space="preserve">Drain-source voltage  <tspan font-style="italic">V</tspan><tspan font-size="7.2" dy="4.3" style="stroke:none">DS</tspan><tspan dy="-4.3"> (kV)</tspan></text>
<text transform="translate(12.8,388.3) rotate(-90)" font-size="11.9">Drain current <tspan font-style="italic">I</tspan><tspan font-size="8" dy="4.3" style="stroke:none">D</tspan><tspan dy="-4.3"> (A)</tspan></text>
<text x="63.75" y="263.3" font-size="8.8" text-anchor="start" >#UIS pulses</text>
<path d="M63.75,270.5H83.75" stroke="#000000" stroke-width="1.9"/>
<rect x="71.35" y="268.1" width="4.8" height="4.8" fill="#000000"/>
<text x="86.75" y="273.67" font-size="8.8" text-anchor="start" >virgin</text>
<path d="M63.75,281.17H83.75" stroke="#ff0000" stroke-width="1.9"/>
<circle cx="73.75" cy="281.17" r="2.4" fill="#ff0000"/>
<text x="86.75" y="284.34" font-size="8.8" text-anchor="start" >10k</text>
<path d="M63.75,291.84H83.75" stroke="#00e000" stroke-width="1.9"/>
<path d="M73.75,288.96L76.39,293.76L71.11,293.76Z" fill="#00e000"/>
<text x="86.75" y="295.01" font-size="8.8" text-anchor="start" >100k</text>
<path d="M63.75,302.51H83.75" stroke="#0000ff" stroke-width="1.9"/>
<path d="M73.75,305.39L76.39,300.59L71.11,300.59Z" fill="#0000ff"/>
<text x="86.75" y="305.68" font-size="8.8" text-anchor="start" >500k</text>
<path d="M63.75,313.18H83.75" stroke="#00ffff" stroke-width="1.9"/>
<path d="M73.75,310.06L76.39,313.18L73.75,316.3L71.11,313.18Z" fill="#00ffff"/>
<text x="86.75" y="316.35" font-size="8.8" text-anchor="start" >2M</text>
<path d="M63.75,323.85H83.75" stroke="#ff00ff" stroke-width="1.9"/>
<path d="M70.87,323.85L75.67,321.21L75.67,326.49Z" fill="#ff00ff"/>
<text x="86.75" y="327.02" font-size="8.8" text-anchor="start" >5M</text>
<path d="M63.75,334.52H83.75" stroke="#808000" stroke-width="1.9"/>
<path d="M76.63,334.52L71.83,331.88L71.83,337.16Z" fill="#808000"/>
<text x="86.75" y="337.69" font-size="8.8" text-anchor="start" >7M</text>
<text x="169" y="350.9" font-size="8.7" text-anchor="start" >#UIS pulses</text>
<path d="M178,339L150.09,315.19" stroke="#000" stroke-width="1.8" stroke-linecap="round"/>
<path d="M144,310L154.04,313.64L151,315.97L149.17,319.34Z" fill="#000"/>
<text x="190.3" y="396" font-size="8"><tspan font-style="italic" font-size="9">V</tspan><tspan font-size="5.4" dy="3.2" style="stroke:none;fill:#333">GS</tspan><tspan dy="-3.2"> = 0V</tspan></text>
<text x="131.5" y="462.5" font-size="12.4" text-anchor="middle" style="font-family:'Liberation Serif',serif">(c)</text>
<path d="M375.5,373.8 L377.5,375.04 L379.1,372.89 L380.7,374.15 L382.3,373.63 L383.9,373.61 L385.5,373.64 L387.1,372.75 L388.7,373.48 L390.3,373.12 L391.9,374.92 L393.5,373.45 L395.1,373.12 L396.7,373.07 L398.3,372.82 L399.9,372.57 L401.5,372.79 L403.1,373.11 L404.7,372.71 L406.3,373.17 L407.9,372.57 L409.5,372.59 L411.1,373.2 L412.7,372.68 L414.3,372.13 L415.9,372.19 L417.5,372.44 L419.1,372.99 L420.7,371.93 L422.3,371.86 L423.9,372.34 L425.5,371.42 L427.1,371.61 L428.7,372.06 L430.3,371.85 L431.9,371.55 L433.5,371.73 L435.1,370.08 L436.7,371.74 L438.3,370.77 L439.9,370.37 L441.5,371.17 L443.1,371.29 L444.7,370.69 L446.3,370.33 L447.9,370.75 L449.5,370.64 L451.1,371.22 L452.7,370.85 L454.3,370.52 L455.9,370.86 L457.5,370.19 L459.1,369.79 L460.7,370.39 L462.3,370.31 L463.9,369.88 L465.5,369.54 L467.1,369.92 L468.7,368.62 L470.3,369.98 L471.9,369.81 L473.5,368.77 L475.1,369.46 L476.7,368.92 L478.3,369.62 L479.9,368.29 L481.5,368.72 L483.1,369.37 L484.7,369.49 L486.3,367.93 L487.9,368.6 L489.5,368.89 L490.9,369.2" stroke="#000000" stroke-width="1.6" fill="none" stroke-linejoin="round"/>
<path d="M489.5,368.89 C489.73,368.94 489.35,369.28 490.9,369.2 C492.45,369.12 496.42,369.07 498.8,368.4 C501.18,367.73 503.47,367.33 505.2,365.2 C506.93,363.07 508,359.58 509.2,355.6 C510.4,351.62 511.48,346.47 512.4,341.3 C513.32,336.13 514.32,327.38 514.7,324.6" stroke="#000000" stroke-width="1.6" fill="none"/>
<path d="M395.6,372V390" stroke="#000" stroke-width="1.0"/>
<path d="M392.6,371V391.8" stroke="#00ffff" stroke-width="1.2"/>
<path d="M394.6,372V390.5" stroke="#0000ff" stroke-width="0.8"/>
<path d="M375.5,373.8 L377.5,373.3 L379.1,374.24 L380.7,372.94 L382.3,373.59 L383.9,372.91 L385.5,373.97 L387.1,373.28 L388.7,373.07 L390.3,372.42 L391.9,373.9 L393.5,373.43 L395.1,373.39 L396.7,373.51 L398.3,373.11 L399.9,372.62 L401.5,372.49 L403.1,372.45 L404.7,373.38 L406.3,372.05 L407.9,372.39 L409.5,372.47 L411.1,372.67 L412.7,372.78 L414.3,371.91 L415.9,371.64 L417.5,372.37 L419.1,372.87 L420.7,372.62 L422.3,372.33 L423.9,372.04 L425.5,372.27 L427.1,371.98 L428.7,372.41 L430.3,371.63 L431.9,372 L433.5,371.85 L435.1,372.09 L436.7,371.9 L438.3,372.9 L439.9,372.38 L441.5,372.33 L443.1,370.69 L444.7,371.41 L446.3,371.24 L447.9,371.7 L449.5,370.39 L451.1,371.9 L452.7,371.8 L454.3,370.69 L455.9,370.78 L457.5,370.81 L459.1,371.15 L460.7,371.37 L462.3,371.95 L463.9,370.89 L465.5,371.28 L467.1,370.96 L468.7,371.63 L470.3,371.12 L471.9,371.36 L473.5,370.21 L475.1,370.56 L476.7,370.23 L478.3,371.23 L479.9,370.8 L481.5,370.32 L483.1,370.2 L484.7,370.58 L485,368.5" stroke="#ff0000" stroke-width="1.6" fill="none" stroke-linejoin="round"/>
<path d="M484.7,370.58 C484.75,370.23 483.92,369.51 485,368.5 C486.08,367.49 489.37,366.5 491.2,364.5 C493.03,362.5 494.68,359.42 496,356.5 C497.32,353.58 498.05,351 499.1,347 C500.15,343 501.23,337.58 502.3,332.5 C503.37,327.42 504.57,321.42 505.5,316.5 C506.43,311.58 506.93,307.83 507.9,303 C508.87,298.17 510.15,292.67 511.3,287.5 C512.45,282.33 514.22,274.58 514.8,272" stroke="#ff0000" stroke-width="1.6" fill="none"/>
<path d="M375.5,373.8 L377.5,372.57 L379.1,372.41 L380.7,372.99 L382.3,373.83 L383.9,372.56 L385.5,372.37 L387.1,372.04 L388.7,371.91 L390.3,372.7 L391.9,372.79 L393.5,372.36 L395.1,372.45 L396.7,372.3 L398.3,372.26 L399.9,371.46 L401.5,371.88 L403.1,372.09 L404.7,371.63 L406.3,371.72 L407.9,371.51 L409.5,371.68 L411.1,372.16 L412.7,371.54 L414.3,371.6 L415.9,371.98 L417.5,371.85 L419.1,372.27 L420.7,370.52 L422.3,371.79 L423.9,371.13 L425.5,371.36 L427.1,371.62 L428.7,371.68 L430.3,371.61 L431.9,371.16 L433.5,371.76 L435.1,370.85 L436.7,370.87 L438.3,371.24 L439.9,370.58 L441.5,371.74 L443.1,371.18 L444.7,371.64 L446.3,370.6 L447.9,370.39 L449.5,370.58 L451.1,370.78 L452.7,370.14 L454.3,370.52 L455.9,370.29 L457.5,370.97 L459.1,369.89 L460.7,370.61 L462.3,369.79 L463.9,369.6 L465.5,369.66 L467.1,369.39 L468.7,369.94 L470.3,370.28 L471.9,369.84 L473.5,370 L475.1,370.4 L476.7,369.73 L478.3,369.64 L479.9,369.38 L481.5,368.73 L483.1,369.74 L484.7,368.55 L485,368.5" stroke="#00e000" stroke-width="1.6" fill="none" stroke-linejoin="round"/>
<path d="M484.7,368.55 C484.75,368.55 483.7,369.06 485,368.5 C486.3,367.94 490.45,366.82 492.5,365.2 C494.55,363.58 495.98,361.18 497.3,358.8 C498.62,356.42 499.35,354.08 500.4,350.9 C501.45,347.72 502.53,344.22 503.6,339.7 C504.67,335.18 505.6,329.42 506.8,323.8 C508,318.18 509.43,312.8 510.8,306 C512.17,299.2 514.3,286.83 515,283" stroke="#00e000" stroke-width="1.6" fill="none"/>
<path d="M375.5,373.8 L377.5,372.39 L379.1,372.03 L380.7,372.48 L382.3,371.88 L383.9,371.47 L385.5,371.94 L387.1,371.46 L388.7,371.57 L390.3,371.61 L391.9,371.46 L393.5,371.38 L395.1,371.02 L396.7,371.25 L398.3,370.31 L399.9,371.13 L401.5,370.6 L403.1,371.58 L404.7,371.58 L406.3,370.07 L407.9,370.95 L409.5,370.76 L411.1,370.28 L412.7,370.93 L414.3,370.42 L415.9,369.77 L417.5,370.38 L419.1,370.37 L420.7,370.42 L422.3,369.75 L423.9,370.52 L425.5,370.51 L427.1,369.6 L428.7,369.76 L430.3,369.95 L431.9,369.67 L433.5,370.64 L435.1,369.89 L436.7,369.28 L438.3,369.31 L439.9,369.58 L441.5,370.57 L443.1,369.4 L444.7,369.47 L446.3,369.58 L447.9,369.27 L449.5,370.25 L451.1,368.92 L452.7,369.43 L454.3,369.1 L455.9,369.24 L457.5,368.37 L459.1,369.63 L460.7,368.72 L462.3,368.72 L463.9,368.22 L465.5,368.25 L467.1,368.77 L468.7,368.9 L470.3,368.73 L471.9,368.87 L473.5,368.58 L475.1,368.21 L476.7,368.51 L478.3,368.34 L479.9,367.96 L481.5,368.27 L483.1,368.45 L484.7,367.92 L486.3,367.59 L487.9,368.01 L488,367" stroke="#0000ff" stroke-width="1.6" fill="none" stroke-linejoin="round"/>
<path d="M487.9,368.01 C487.92,367.84 486.83,367.73 488,367 C489.17,366.27 492.97,365.37 494.9,363.6 C496.83,361.83 498.28,359.05 499.6,356.4 C500.92,353.75 501.73,351.27 502.8,347.7 C503.87,344.13 504.93,339.77 506,335 C507.07,330.23 508.13,324.6 509.2,319.1 C510.27,313.6 511.4,307.68 512.4,302 C513.4,296.32 514.73,287.83 515.2,285" stroke="#0000ff" stroke-width="1.6" fill="none"/>
<path d="M375.5,373.8 L377.5,371.24 L379.1,370.17 L380.7,370.11 L382.3,369.97 L383.9,370.46 L385.5,368.96 L387.1,369.83 L388.7,370.08 L390.3,369.06 L391.9,369.98 L393.5,369.43 L395.1,368.82 L396.7,369.04 L398.3,368.14 L399.9,368.45 L401.5,369.41 L403.1,368.07 L404.7,369.18 L406.3,368.19 L407.9,368.56 L409.5,368.01 L411.1,366.86 L412.7,367.49 L414.3,367.71 L415.9,366.99 L417.5,366.78 L419.1,367.43 L420.7,366.86 L422.3,366.26 L423.9,366.6 L425.5,367.17 L427.1,366.45 L428.7,366.97 L430.3,367.11 L431.9,366.32 L433.5,365.68 L435.1,365.48 L436.7,365.94 L438.3,366.22 L439.9,365.83 L441.5,365.83 L443.1,365.27 L444.7,365.48 L446.3,365.02 L447.9,364.96 L449.5,364.41 L451.1,364.16 L452.7,364.53 L454.3,364.13 L455.9,364.08 L457.5,364.69 L459.1,364.22 L460.7,365.46 L462.3,364.44 L463.9,363.62 L465.5,364.14 L467.1,363.83 L468.7,363.24 L470.3,363.92 L471.9,362.96 L473.5,361.81 L475.1,363.42 L476.7,362.67 L478.3,363.5 L479.9,362.42 L481.5,362.06 L483.1,363.16 L484.7,361.86 L485,361.6" stroke="#00ffff" stroke-width="1.8" fill="none" stroke-linejoin="round"/>
<path d="M484.7,361.86 C484.75,361.82 483.95,362.16 485,361.6 C486.05,361.04 489.33,360.02 491,358.5 C492.67,356.98 493.75,354.92 495,352.5 C496.25,350.08 497.42,347.25 498.5,344 C499.58,340.75 500.42,337.33 501.5,333 C502.58,328.67 503.58,323.67 505,318 C506.42,312.33 508.33,305.42 510,299 C511.67,292.58 514.17,282.75 515,279.5" stroke="#00ffff" stroke-width="1.8" fill="none"/>
<path d="M375.5,373.8 L377.5,371.2 L379.1,371.69 L380.7,371.02 L382.3,370.86 L383.9,370.87 L385.5,371.13 L387.1,370.32 L388.7,370.88 L390.3,370.8 L391.9,371.51 L393.5,370.24 L395.1,369.91 L396.7,370.58 L398.3,370 L399.9,370.23 L401.5,370.09 L403.1,370.49 L404.7,369.59 L406.3,369.77 L407.9,368.6 L409.5,369.27 L411.1,370.29 L412.7,369.22 L414.3,369.14 L415.9,368.84 L417.5,369.57 L419.1,369.32 L420.7,368.63 L422.3,369.4 L423.9,369.14 L425.5,369.29 L427.1,368.59 L428.7,369.59 L430.3,368.92 L431.9,368.61 L433.5,368.36 L435.1,368.41 L436.7,368.83 L438.3,368.26 L439.9,368.79 L441.5,368.49 L443.1,368.77 L444.7,368.45 L446.3,367.99 L447.9,367.09 L449.5,368.01 L451.1,368.16 L452.7,367.8 L454.3,367.91 L455.9,367.37 L457.5,367.34 L459.1,367.02 L460.7,367.98 L462.3,367.37 L463.9,367 L465.5,366.55 L467.1,367.01 L468.7,367.66 L470.3,367.14 L471.9,366.54 L473.5,367.44 L475.1,367.36 L476.7,367.09 L478.3,366.93 L479.9,367.02 L481.5,366.68 L483.1,366.71 L484.5,364.4" stroke="#ff00ff" stroke-width="1.7" fill="none" stroke-linejoin="round"/>
<path d="M483.1,366.71 C483.33,366.32 483.33,365.32 484.5,364.4 C485.67,363.48 488.5,362.8 490.1,361.2 C491.7,359.6 492.9,357.32 494.1,354.8 C495.3,352.28 496.25,349.53 497.3,346.1 C498.35,342.67 499.35,338.17 500.4,334.2 C501.45,330.23 502.17,328 503.6,322.3 C505.03,316.6 507.1,307.38 509,300 C510.9,292.62 514,281.67 515,278" stroke="#ff00ff" stroke-width="1.7" fill="none"/>
<path d="M375.5,373.8 L377.5,372.24 L379.1,373.21 L380.7,372.58 L382.3,373.33 L383.9,371.44 L385.5,372.62 L387.1,372.69 L388.7,372.04 L390.3,372.34 L391.9,372.42 L393.5,372.29 L395.1,371.73 L396.7,371.85 L398.3,372.32 L399.9,372.38 L401.5,371.79 L403.1,371.73 L404.7,371.73 L406.3,372.05 L407.9,371.05 L409.5,370.87 L411.1,371.47 L412.7,370.86 L414.3,371.04 L415.9,371.28 L417.5,371.4 L419.1,370.65 L420.7,371.44 L422.3,370.22 L423.9,371.21 L425.5,370.2 L427.1,370.28 L428.7,371.08 L430.3,370.56 L431.9,370.33 L433.5,370.43 L435.1,370.78 L436.7,370.49 L438.3,370.45 L439.9,370.88 L441.5,370.03 L443.1,370.08 L444.7,370 L446.3,370.71 L447.9,370.57 L449.5,370.65 L451.1,370 L452.7,369.88 L454.3,370.28 L455.9,369.67 L457.5,370.16 L459.1,370.06 L460.7,369.36 L462.3,369.58 L463.9,369.51 L465.5,370.29 L467.1,370.62 L468.7,369.35 L470.3,369.35 L471.9,368.26 L473.5,369.32 L475.1,369.17 L476.7,368.63 L478.3,369.41 L479.9,368.3 L481.5,368.85 L483.1,368.95 L484.5,366.5" stroke="#808000" stroke-width="1.9" fill="none" stroke-linejoin="round"/>
<path d="M483.1,368.95 C483.33,368.54 483.2,367.39 484.5,366.5 C485.8,365.61 489.03,365.42 490.9,363.6 C492.77,361.78 494.38,358.52 495.7,355.6 C497.02,352.68 497.75,350.07 498.8,346.1 C499.85,342.13 500.93,336.83 502,331.8 C503.07,326.77 504.27,320.8 505.2,315.9 C506.13,311 506.63,307.22 507.6,302.4 C508.57,297.58 509.85,292.15 511,287 C512.15,281.85 513.92,274.08 514.5,271.5" stroke="#808000" stroke-width="1.9" fill="none"/>
<path d="M393.6,371V390.5" stroke="#808000" stroke-width="1.5"/>
<rect x="352.5" y="250" width="185.7" height="151" fill="none" stroke="#000" stroke-width="1.3"/>
<path d="M375.5,401v-3M375.5,250v3M421.83,401v-3M421.83,250v3M468.16,401v-3M468.16,250v3M514.49,401v-3M514.49,250v3" stroke="#000" stroke-width="1.0" fill="none"/>
<path d="M352.34,401v-1.6M352.34,250v1.6M398.67,401v-1.6M398.67,250v1.6M445,401v-1.6M445,250v1.6M491.32,401v-1.6M491.32,250v1.6" stroke="#000" stroke-width="1.0" fill="none"/>
<path d="M352.5,319h3M538.2,319h-3M352.5,388h3M538.2,388h-3" stroke="#000" stroke-width="1.0" fill="none"/>
<path d="M352.5,398.69h1.6M538.2,398.69h-1.6M352.5,394.69h1.6M538.2,394.69h-1.6M352.5,391.16h1.6M538.2,391.16h-1.6M352.5,367.23h1.6M538.2,367.23h-1.6M352.5,355.08h1.6M538.2,355.08h-1.6M352.5,346.46h1.6M538.2,346.46h-1.6M352.5,339.77h1.6M538.2,339.77h-1.6M352.5,334.31h1.6M538.2,334.31h-1.6M352.5,329.69h1.6M538.2,329.69h-1.6M352.5,325.69h1.6M538.2,325.69h-1.6M352.5,322.16h1.6M538.2,322.16h-1.6M352.5,298.23h1.6M538.2,298.23h-1.6M352.5,286.08h1.6M538.2,286.08h-1.6M352.5,277.46h1.6M538.2,277.46h-1.6M352.5,270.77h1.6M538.2,270.77h-1.6M352.5,265.31h1.6M538.2,265.31h-1.6M352.5,260.69h1.6M538.2,260.69h-1.6M352.5,256.69h1.6M538.2,256.69h-1.6M352.5,253.16h1.6M538.2,253.16h-1.6" stroke="#000" stroke-width="0.8" fill="none"/>
<text x="375.5" y="412" font-size="8.5" text-anchor="middle" >0</text>
<text x="421.83" y="412" font-size="8.5" text-anchor="middle" >10</text>
<text x="468.16" y="412" font-size="8.5" text-anchor="middle" >20</text>
<text x="514.49" y="412" font-size="8.5" text-anchor="middle" >30</text>
<text x="349.6" y="253.6" font-size="8.2" text-anchor="end">10<tspan font-size="5" dy="-4.5" style="fill:#444;stroke:none">-8</tspan></text>
<text x="349.6" y="322.6" font-size="8.2" text-anchor="end">10<tspan font-size="5" dy="-4.5" style="fill:#444;stroke:none">-9</tspan></text>
<text x="349.6" y="391.6" font-size="8.2" text-anchor="end">10<tspan font-size="5" dy="-4.5" style="fill:#444;stroke:none">-10</tspan></text>
<text x="367" y="426.2" font-size="12.2" xml:space="preserve">Gate-source voltage  <tspan font-style="italic">V</tspan><tspan font-size="8" dy="4.3" style="stroke:none">GS</tspan><tspan dy="-4.3"> (V)</tspan></text>
<text transform="translate(324,384.7) rotate(-90)" font-size="12.2">Gate current <tspan font-style="italic">I</tspan><tspan font-size="8" dy="4.3" style="stroke:none">G</tspan><tspan dy="-4.3"> (A)</tspan></text>
<text x="367.8" y="268.3" font-size="8.8" text-anchor="start" >#UIS pulses</text>
<path d="M367.8,276.2H387.8" stroke="#000000" stroke-width="1.9"/>
<rect x="376.2" y="274.6" width="3.2" height="3.2" fill="#000000"/>
<text x="390" y="279.37" font-size="8.8" text-anchor="start" >virgin</text>
<path d="M367.8,287.05H387.8" stroke="#ff0000" stroke-width="1.9"/>
<circle cx="377.8" cy="287.05" r="1.6" fill="#ff0000"/>
<text x="390" y="290.22" font-size="8.8" text-anchor="start" >10k</text>
<path d="M367.8,297.9H387.8" stroke="#00e000" stroke-width="1.9"/>
<path d="M377.8,295.98L379.56,299.18L376.04,299.18Z" fill="#00e000"/>
<text x="390" y="301.07" font-size="8.8" text-anchor="start" >100k</text>
<path d="M367.8,308.75H387.8" stroke="#0000ff" stroke-width="1.9"/>
<path d="M377.8,310.67L379.56,307.47L376.04,307.47Z" fill="#0000ff"/>
<text x="390" y="311.92" font-size="8.8" text-anchor="start" >500k</text>
<path d="M367.8,319.6H387.8" stroke="#00ffff" stroke-width="1.9"/>
<path d="M377.8,317.52L379.56,319.6L377.8,321.68L376.04,319.6Z" fill="#00ffff"/>
<text x="390" y="322.77" font-size="8.8" text-anchor="start" >2M</text>
<path d="M367.8,330.45H387.8" stroke="#ff00ff" stroke-width="1.9"/>
<path d="M375.88,330.45L379.08,328.69L379.08,332.21Z" fill="#ff00ff"/>
<text x="390" y="333.62" font-size="8.8" text-anchor="start" >5M</text>
<path d="M367.8,341.3H387.8" stroke="#808000" stroke-width="1.9"/>
<path d="M379.72,341.3L376.52,339.54L376.52,343.06Z" fill="#808000"/>
<text x="390" y="344.47" font-size="8.8" text-anchor="start" >7M</text>
<text x="442.8" y="334.7" font-size="8.8" text-anchor="start" >#UIS pulses</text>
<path d="M511.6,369.3L488.43,345.97" stroke="#000" stroke-width="1.8" stroke-linecap="round"/>
<path d="M483.5,341L492.32,344.92L489.28,346.82L487.36,349.85Z" fill="#000"/>
<text x="495.8" y="392.7" font-size="8"><tspan font-style="italic" font-size="9">V</tspan><tspan font-size="5.4" dy="3.2" style="stroke:none;fill:#333">DS</tspan><tspan dy="-3.2"> = 0V</tspan></text>
<text x="440.5" y="462.9" font-size="12.4" text-anchor="middle" style="font-family:'Liberation Serif',serif">(d)</text>
</g>
</svg>
</body></html>
